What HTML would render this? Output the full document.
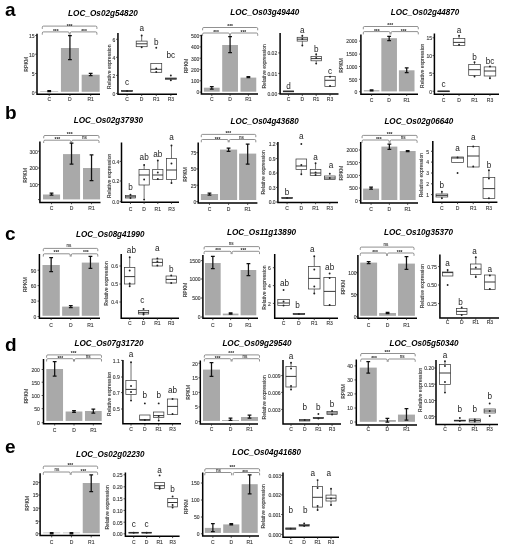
<!DOCTYPE html><html><head><meta charset="utf-8"><title>Figure</title><style>html,body{margin:0;padding:0;background:#fff;}svg{display:block;}</style></head><body>
<svg width="505" height="550" viewBox="0 0 505 550" font-family='"Liberation Sans", Arial, sans-serif'>
<rect width="505" height="550" fill="#fff"/>
<text x="5" y="15.8" font-size="19" text-anchor="start" fill="#000" font-weight="bold">a</text>
<text x="5" y="118.8" font-size="19" text-anchor="start" fill="#000" font-weight="bold">b</text>
<text x="5" y="239.8" font-size="19" text-anchor="start" fill="#000" font-weight="bold">c</text>
<text x="5" y="351.2" font-size="19" text-anchor="start" fill="#000" font-weight="bold">d</text>
<text x="5" y="453" font-size="19" text-anchor="start" fill="#000" font-weight="bold">e</text>
<text x="68.1" y="15.7" font-size="8.8" text-anchor="start" fill="#000" font-weight="bold" font-style="italic" textLength="69.7" lengthAdjust="spacingAndGlyphs">LOC_Os02g54820</text>
<text x="230.3" y="15.2" font-size="8.8" text-anchor="start" fill="#000" font-weight="bold" font-style="italic" textLength="69" lengthAdjust="spacingAndGlyphs">LOC_Os03g49440</text>
<text x="390.8" y="15.3" font-size="8.8" text-anchor="start" fill="#000" font-weight="bold" font-style="italic" textLength="68.5" lengthAdjust="spacingAndGlyphs">LOC_Os02g44870</text>
<text x="73.7" y="123" font-size="8.8" text-anchor="start" fill="#000" font-weight="bold" font-style="italic" textLength="69.3" lengthAdjust="spacingAndGlyphs">LOC_Os02g37930</text>
<text x="230.6" y="123.8" font-size="8.8" text-anchor="start" fill="#000" font-weight="bold" font-style="italic" textLength="68" lengthAdjust="spacingAndGlyphs">LOC_Os04g43680</text>
<text x="384.4" y="123.5" font-size="8.8" text-anchor="start" fill="#000" font-weight="bold" font-style="italic" textLength="69" lengthAdjust="spacingAndGlyphs">LOC_Os02g06640</text>
<text x="76" y="236.5" font-size="8.8" text-anchor="start" fill="#000" font-weight="bold" font-style="italic" textLength="68.4" lengthAdjust="spacingAndGlyphs">LOC_Os08g41990</text>
<text x="227" y="235" font-size="8.8" text-anchor="start" fill="#000" font-weight="bold" font-style="italic" textLength="69" lengthAdjust="spacingAndGlyphs">LOC_Os11g13890</text>
<text x="384" y="235" font-size="8.8" text-anchor="start" fill="#000" font-weight="bold" font-style="italic" textLength="69" lengthAdjust="spacingAndGlyphs">LOC_Os10g35370</text>
<text x="74.5" y="345.8" font-size="8.8" text-anchor="start" fill="#000" font-weight="bold" font-style="italic" textLength="69.1" lengthAdjust="spacingAndGlyphs">LOC_Os07g31720</text>
<text x="222.4" y="346" font-size="8.8" text-anchor="start" fill="#000" font-weight="bold" font-style="italic" textLength="69.2" lengthAdjust="spacingAndGlyphs">LOC_Os09g29540</text>
<text x="389.6" y="345.5" font-size="8.8" text-anchor="start" fill="#000" font-weight="bold" font-style="italic" textLength="69" lengthAdjust="spacingAndGlyphs">LOC_Os05g50340</text>
<text x="76" y="457.3" font-size="8.8" text-anchor="start" fill="#000" font-weight="bold" font-style="italic" textLength="68.6" lengthAdjust="spacingAndGlyphs">LOC_Os02g02230</text>
<text x="232.3" y="455" font-size="8.8" text-anchor="start" fill="#000" font-weight="bold" font-style="italic" textLength="68.6" lengthAdjust="spacingAndGlyphs">LOC_Os04g41680</text>
<rect x="40.21" y="91.2" width="18" height="0.6" fill="#a9a9a9"/>
<rect x="60.93" y="48" width="18" height="43.8" fill="#a9a9a9"/>
<rect x="81.66" y="74.7" width="18" height="17.1" fill="#a9a9a9"/>
<path d="M47.31 90.6H51.11M49.21 90.6V91.6M47.31 91.6H51.11" stroke="#111" stroke-width="1.25" fill="none"/>
<path d="M68.03 35.5H71.83M69.93 35.5V59.5M68.03 59.5H71.83" stroke="#111" stroke-width="1.25" fill="none"/>
<path d="M88.76 73.3H92.56M90.66 73.3V75.6M88.76 75.6H92.56" stroke="#111" stroke-width="1.25" fill="none"/>
<path d="M37 33.7V94.2H100" fill="none" stroke="#000" stroke-width="1.5"/>
<path d="M35.2 35.5H37" stroke="#222" stroke-width="0.8"/>
<text x="34.6" y="37.8" font-size="5.0" text-anchor="end" fill="#333" stroke="#444" stroke-width="0.12">15</text>
<path d="M35.2 54.2H37" stroke="#222" stroke-width="0.8"/>
<text x="34.6" y="56.5" font-size="5.0" text-anchor="end" fill="#333" stroke="#444" stroke-width="0.12">10</text>
<path d="M35.2 73.5H37" stroke="#222" stroke-width="0.8"/>
<text x="34.6" y="75.8" font-size="5.0" text-anchor="end" fill="#333" stroke="#444" stroke-width="0.12">5</text>
<path d="M35.2 92.2H37" stroke="#222" stroke-width="0.8"/>
<text x="34.6" y="94.5" font-size="5.0" text-anchor="end" fill="#333" stroke="#444" stroke-width="0.12">0</text>
<path d="M49.21 94.2V96" stroke="#222" stroke-width="0.8"/>
<text x="49.21" y="100.6" font-size="5.0" text-anchor="middle" fill="#333" stroke="#444" stroke-width="0.12">C</text>
<path d="M69.93 94.2V96" stroke="#222" stroke-width="0.8"/>
<text x="69.93" y="100.6" font-size="5.0" text-anchor="middle" fill="#333" stroke="#444" stroke-width="0.12">D</text>
<path d="M90.66 94.2V96" stroke="#222" stroke-width="0.8"/>
<text x="90.66" y="100.6" font-size="5.0" text-anchor="middle" fill="#333" stroke="#444" stroke-width="0.12">R1</text>
<text transform="translate(25.9 64.3) rotate(-90)" font-size="5.1" text-anchor="middle" fill="#222" dy="1.7" stroke="#444" stroke-width="0.12">RPKM</text>
<path d="M42.3 28.9V27.3Q42.3 26.1 43.5 26.1H95.7Q96.9 26.1 96.9 27.3V28.9M42.3 34.7V33.1Q42.3 31.9 43.5 31.9H68Q69.2 31.9 69.2 33.1V34.7M70.2 34.7V33.1Q70.2 31.9 71.4 31.9H95.7Q96.9 31.9 96.9 33.1V34.7" fill="none" stroke="#555" stroke-width="0.65"/>
<text x="69.6" y="27.7" font-size="4.9" text-anchor="middle" fill="#222" font-weight="bold">***</text>
<text x="55.8" y="32.8" font-size="4.9" text-anchor="middle" fill="#222" font-weight="bold">***</text>
<text x="84" y="32.8" font-size="4.9" text-anchor="middle" fill="#222" font-weight="bold">***</text>
<rect x="121.62" y="90.6" width="10.94" height="0.8" fill="#fff" stroke="#333" stroke-width="0.7"/>
<path d="M121.62 91H132.55" stroke="#222" stroke-width="0.9"/>
<circle cx="127.09" cy="91" r="0.95" fill="#222"/>
<path d="M141.67 35V41.1M141.67 46.7V47.5" stroke="#333" stroke-width="0.7"/>
<rect x="136.2" y="41.1" width="10.94" height="5.6" fill="#fff" stroke="#333" stroke-width="0.7"/>
<path d="M136.2 43.8H147.14" stroke="#222" stroke-width="0.9"/>
<circle cx="141.67" cy="35.5" r="0.95" fill="#222"/>
<circle cx="141.67" cy="47.3" r="0.95" fill="#222"/>
<rect x="150.79" y="63.6" width="10.94" height="8.7" fill="#fff" stroke="#333" stroke-width="0.7"/>
<path d="M150.79 69.3H161.72" stroke="#222" stroke-width="0.9"/>
<circle cx="156.25" cy="47.7" r="0.95" fill="#222"/>
<circle cx="156.25" cy="68.5" r="0.95" fill="#222"/>
<circle cx="156.25" cy="72" r="0.95" fill="#222"/>
<rect x="165.37" y="78" width="10.94" height="1.3" fill="#fff" stroke="#333" stroke-width="0.7"/>
<path d="M165.37 78.6H176.31" stroke="#222" stroke-width="0.9"/>
<circle cx="170.84" cy="75.5" r="0.95" fill="#222"/>
<circle cx="170.84" cy="80.2" r="0.95" fill="#222"/>
<text x="127.09" y="84.9" font-size="8.2" text-anchor="middle" fill="#222">c</text>
<text x="141.67" y="30.7" font-size="8.2" text-anchor="middle" fill="#222">a</text>
<text x="156.25" y="44.5" font-size="8.2" text-anchor="middle" fill="#222">b</text>
<text x="170.84" y="57.5" font-size="8.2" text-anchor="middle" fill="#222">bc</text>
<path d="M117.95 33V94.2H177" fill="none" stroke="#000" stroke-width="1.5"/>
<path d="M116.15 39.3H117.95" stroke="#222" stroke-width="0.8"/>
<text x="115.3" y="41.6" font-size="5.0" text-anchor="end" fill="#333" stroke="#444" stroke-width="0.12">6</text>
<path d="M116.15 57.3H117.95" stroke="#222" stroke-width="0.8"/>
<text x="115.3" y="59.6" font-size="5.0" text-anchor="end" fill="#333" stroke="#444" stroke-width="0.12">4</text>
<path d="M116.15 75.4H117.95" stroke="#222" stroke-width="0.8"/>
<text x="115.3" y="77.7" font-size="5.0" text-anchor="end" fill="#333" stroke="#444" stroke-width="0.12">2</text>
<path d="M116.15 93.4H117.95" stroke="#222" stroke-width="0.8"/>
<text x="115.3" y="95.7" font-size="5.0" text-anchor="end" fill="#333" stroke="#444" stroke-width="0.12">0</text>
<path d="M127.09 94.2V96" stroke="#222" stroke-width="0.8"/>
<text x="127.09" y="100.8" font-size="5.0" text-anchor="middle" fill="#333" stroke="#444" stroke-width="0.12">C</text>
<path d="M141.67 94.2V96" stroke="#222" stroke-width="0.8"/>
<text x="141.67" y="100.8" font-size="5.0" text-anchor="middle" fill="#333" stroke="#444" stroke-width="0.12">D</text>
<path d="M156.25 94.2V96" stroke="#222" stroke-width="0.8"/>
<text x="156.25" y="100.8" font-size="5.0" text-anchor="middle" fill="#333" stroke="#444" stroke-width="0.12">R1</text>
<path d="M170.84 94.2V96" stroke="#222" stroke-width="0.8"/>
<text x="170.84" y="100.8" font-size="5.0" text-anchor="middle" fill="#333" stroke="#444" stroke-width="0.12">R3</text>
<text transform="translate(109.1 66.7) rotate(-90)" font-size="5.1" text-anchor="middle" fill="#222" dy="1.7" stroke="#444" stroke-width="0.12">Relative expression</text>
<rect x="203.9" y="87.7" width="15.77" height="4" fill="#a9a9a9"/>
<rect x="222.2" y="45" width="15.77" height="46.7" fill="#a9a9a9"/>
<rect x="240.5" y="77.6" width="15.77" height="14.1" fill="#a9a9a9"/>
<path d="M209.88 86.5H213.68M211.78 86.5V89M209.88 89H213.68" stroke="#111" stroke-width="1.25" fill="none"/>
<path d="M228.18 36.6H231.98M230.08 36.6V52.5M228.18 52.5H231.98" stroke="#111" stroke-width="1.25" fill="none"/>
<path d="M246.48 76.6H250.28M248.38 76.6V77.6M246.48 77.6H250.28" stroke="#111" stroke-width="1.25" fill="none"/>
<path d="M201.4 34.7V94.1H258" fill="none" stroke="#000" stroke-width="1.5"/>
<path d="M199.6 35.6H201.4" stroke="#222" stroke-width="0.8"/>
<text x="199.3" y="37.9" font-size="5.0" text-anchor="end" fill="#333" stroke="#444" stroke-width="0.12">500</text>
<path d="M199.6 46.9H201.4" stroke="#222" stroke-width="0.8"/>
<text x="199.3" y="49.2" font-size="5.0" text-anchor="end" fill="#333" stroke="#444" stroke-width="0.12">400</text>
<path d="M199.6 58.2H201.4" stroke="#222" stroke-width="0.8"/>
<text x="199.3" y="60.5" font-size="5.0" text-anchor="end" fill="#333" stroke="#444" stroke-width="0.12">300</text>
<path d="M199.6 69.5H201.4" stroke="#222" stroke-width="0.8"/>
<text x="199.3" y="71.8" font-size="5.0" text-anchor="end" fill="#333" stroke="#444" stroke-width="0.12">200</text>
<path d="M199.6 80.8H201.4" stroke="#222" stroke-width="0.8"/>
<text x="199.3" y="83.1" font-size="5.0" text-anchor="end" fill="#333" stroke="#444" stroke-width="0.12">100</text>
<path d="M199.6 92.1H201.4" stroke="#222" stroke-width="0.8"/>
<text x="199.3" y="94.4" font-size="5.0" text-anchor="end" fill="#333" stroke="#444" stroke-width="0.12">0</text>
<path d="M211.78 94.1V95.9" stroke="#222" stroke-width="0.8"/>
<text x="211.78" y="100.8" font-size="5.0" text-anchor="middle" fill="#333" stroke="#444" stroke-width="0.12">C</text>
<path d="M230.08 94.1V95.9" stroke="#222" stroke-width="0.8"/>
<text x="230.08" y="100.8" font-size="5.0" text-anchor="middle" fill="#333" stroke="#444" stroke-width="0.12">D</text>
<path d="M248.38 94.1V95.9" stroke="#222" stroke-width="0.8"/>
<text x="248.38" y="100.8" font-size="5.0" text-anchor="middle" fill="#333" stroke="#444" stroke-width="0.12">R1</text>
<text transform="translate(185.8 66) rotate(-90)" font-size="5.1" text-anchor="middle" fill="#222" dy="1.7" stroke="#444" stroke-width="0.12">RPKM</text>
<path d="M202.6 30.3V28.7Q202.6 27.5 203.8 27.5H256.5Q257.7 27.5 257.7 28.7V30.3M202.6 35.8V34.2Q202.6 33 203.8 33H228.3Q229.5 33 229.5 34.2V35.8M230.5 35.8V34.2Q230.5 33 231.7 33H256.5Q257.7 33 257.7 34.2V35.8" fill="none" stroke="#555" stroke-width="0.65"/>
<text x="230.1" y="28.2" font-size="4.9" text-anchor="middle" fill="#222" font-weight="bold">***</text>
<text x="216" y="34.2" font-size="4.9" text-anchor="middle" fill="#222" font-weight="bold">***</text>
<text x="243.4" y="34.2" font-size="4.9" text-anchor="middle" fill="#222" font-weight="bold">***</text>
<rect x="283.28" y="91" width="10.39" height="0.8" fill="#fff" stroke="#333" stroke-width="0.7"/>
<path d="M283.28 91.3H293.68" stroke="#222" stroke-width="0.9"/>
<path d="M302.33 35.4V37.3M302.33 41.1V45.9" stroke="#333" stroke-width="0.7"/>
<rect x="297.14" y="37.3" width="10.39" height="3.8" fill="#fff" stroke="#333" stroke-width="0.7"/>
<path d="M297.14 39.2H307.53" stroke="#222" stroke-width="0.9"/>
<circle cx="302.33" cy="35.8" r="0.95" fill="#222"/>
<circle cx="302.33" cy="39" r="0.95" fill="#222"/>
<circle cx="302.33" cy="45.5" r="0.95" fill="#222"/>
<path d="M316.19 53.9V56.4M316.19 60.8V64" stroke="#333" stroke-width="0.7"/>
<rect x="310.99" y="56.4" width="10.39" height="4.4" fill="#fff" stroke="#333" stroke-width="0.7"/>
<path d="M310.99 58.6H321.39" stroke="#222" stroke-width="0.9"/>
<circle cx="316.19" cy="54.3" r="0.95" fill="#222"/>
<circle cx="316.19" cy="58" r="0.95" fill="#222"/>
<circle cx="316.19" cy="63.6" r="0.95" fill="#222"/>
<rect x="324.85" y="76.4" width="10.39" height="10" fill="#fff" stroke="#333" stroke-width="0.7"/>
<path d="M324.85 80.3H335.24" stroke="#222" stroke-width="0.9"/>
<circle cx="330.04" cy="76.8" r="0.95" fill="#222"/>
<circle cx="330.04" cy="86" r="0.95" fill="#222"/>
<text x="288.48" y="88.6" font-size="8.2" text-anchor="middle" fill="#222">d</text>
<text x="302.33" y="32.5" font-size="8.2" text-anchor="middle" fill="#222">a</text>
<text x="316.19" y="51.7" font-size="8.2" text-anchor="middle" fill="#222">b</text>
<text x="330.04" y="73.6" font-size="8.2" text-anchor="middle" fill="#222">c</text>
<path d="M280.1 32.9V94.1H338.5" fill="none" stroke="#000" stroke-width="1.5"/>
<path d="M278.3 52.9H280.1" stroke="#222" stroke-width="0.8"/>
<text x="277.2" y="55.2" font-size="5.0" text-anchor="end" fill="#333" stroke="#444" stroke-width="0.12">0.02</text>
<path d="M278.3 73.4H280.1" stroke="#222" stroke-width="0.8"/>
<text x="277.2" y="75.7" font-size="5.0" text-anchor="end" fill="#333" stroke="#444" stroke-width="0.12">0.01</text>
<path d="M278.3 93.6H280.1" stroke="#222" stroke-width="0.8"/>
<text x="277.2" y="95.9" font-size="5.0" text-anchor="end" fill="#333" stroke="#444" stroke-width="0.12">0.00</text>
<path d="M288.48 94.1V95.9" stroke="#222" stroke-width="0.8"/>
<text x="288.48" y="101.4" font-size="5.0" text-anchor="middle" fill="#333" stroke="#444" stroke-width="0.12">C</text>
<path d="M302.33 94.1V95.9" stroke="#222" stroke-width="0.8"/>
<text x="302.33" y="101.4" font-size="5.0" text-anchor="middle" fill="#333" stroke="#444" stroke-width="0.12">D</text>
<path d="M316.19 94.1V95.9" stroke="#222" stroke-width="0.8"/>
<text x="316.19" y="101.4" font-size="5.0" text-anchor="middle" fill="#333" stroke="#444" stroke-width="0.12">R1</text>
<path d="M330.04 94.1V95.9" stroke="#222" stroke-width="0.8"/>
<text x="330.04" y="101.4" font-size="5.0" text-anchor="middle" fill="#333" stroke="#444" stroke-width="0.12">R3</text>
<text transform="translate(264.4 66.4) rotate(-90)" font-size="5.1" text-anchor="middle" fill="#222" dy="1.7" stroke="#444" stroke-width="0.12">Relative expression</text>
<rect x="363.78" y="90.2" width="15.63" height="1.2" fill="#a9a9a9"/>
<rect x="381.33" y="38.2" width="15.63" height="53.2" fill="#a9a9a9"/>
<rect x="398.88" y="70.3" width="15.63" height="21.1" fill="#a9a9a9"/>
<path d="M369.7 89.8H373.5M371.6 89.8V90.8M369.7 90.8H373.5" stroke="#111" stroke-width="1.25" fill="none"/>
<path d="M387.25 36.3H391.05M389.15 36.3V40.5M387.25 40.5H391.05" stroke="#111" stroke-width="1.25" fill="none"/>
<path d="M404.8 67.8H408.6M406.7 67.8V72.6M404.8 72.6H408.6" stroke="#111" stroke-width="1.25" fill="none"/>
<path d="M360.9 34.4V94.2H418" fill="none" stroke="#000" stroke-width="1.5"/>
<path d="M359.1 41.1H360.9" stroke="#222" stroke-width="0.8"/>
<text x="357.3" y="43.4" font-size="5.0" text-anchor="end" fill="#333" stroke="#444" stroke-width="0.12">2000</text>
<path d="M359.1 54.1H360.9" stroke="#222" stroke-width="0.8"/>
<text x="357.3" y="56.4" font-size="5.0" text-anchor="end" fill="#333" stroke="#444" stroke-width="0.12">1500</text>
<path d="M359.1 66.5H360.9" stroke="#222" stroke-width="0.8"/>
<text x="357.3" y="68.8" font-size="5.0" text-anchor="end" fill="#333" stroke="#444" stroke-width="0.12">1000</text>
<path d="M359.1 79.3H360.9" stroke="#222" stroke-width="0.8"/>
<text x="357.3" y="81.6" font-size="5.0" text-anchor="end" fill="#333" stroke="#444" stroke-width="0.12">500</text>
<path d="M359.1 91.7H360.9" stroke="#222" stroke-width="0.8"/>
<text x="357.3" y="94" font-size="5.0" text-anchor="end" fill="#333" stroke="#444" stroke-width="0.12">0</text>
<path d="M371.6 94.2V96" stroke="#222" stroke-width="0.8"/>
<text x="371.6" y="101.5" font-size="5.0" text-anchor="middle" fill="#333" stroke="#444" stroke-width="0.12">C</text>
<path d="M389.15 94.2V96" stroke="#222" stroke-width="0.8"/>
<text x="389.15" y="101.5" font-size="5.0" text-anchor="middle" fill="#333" stroke="#444" stroke-width="0.12">D</text>
<path d="M406.7 94.2V96" stroke="#222" stroke-width="0.8"/>
<text x="406.7" y="101.5" font-size="5.0" text-anchor="middle" fill="#333" stroke="#444" stroke-width="0.12">R1</text>
<text transform="translate(341.6 65.5) rotate(-90)" font-size="5.1" text-anchor="middle" fill="#222" dy="1.7" stroke="#444" stroke-width="0.12">RPKM</text>
<path d="M363.3 29.3V27.7Q363.3 26.5 364.5 26.5H417.1Q418.3 26.5 418.3 27.7V29.3M363.3 34.4V32.8Q363.3 31.6 364.5 31.6H388.8Q390 31.6 390 32.8V34.4M391 34.4V32.8Q391 31.6 392.2 31.6H417.1Q418.3 31.6 418.3 32.8V34.4" fill="none" stroke="#555" stroke-width="0.65"/>
<text x="390.2" y="27.3" font-size="4.9" text-anchor="middle" fill="#222" font-weight="bold">***</text>
<text x="376.8" y="33.2" font-size="4.9" text-anchor="middle" fill="#222" font-weight="bold">***</text>
<text x="403.6" y="33.2" font-size="4.9" text-anchor="middle" fill="#222" font-weight="bold">***</text>
<rect x="437.81" y="90.9" width="11.59" height="0.8" fill="#fff" stroke="#333" stroke-width="0.7"/>
<path d="M437.81 91.3H449.4" stroke="#222" stroke-width="0.9"/>
<path d="M459.06 35.4V38.6" stroke="#333" stroke-width="0.7"/>
<rect x="453.26" y="38.6" width="11.59" height="6.9" fill="#fff" stroke="#333" stroke-width="0.7"/>
<path d="M453.26 42.4H464.86" stroke="#222" stroke-width="0.9"/>
<circle cx="459.06" cy="35.8" r="0.95" fill="#222"/>
<circle cx="459.06" cy="44.8" r="0.95" fill="#222"/>
<path d="M474.52 62V64.4M474.52 75.5V77" stroke="#333" stroke-width="0.7"/>
<rect x="468.72" y="64.4" width="11.59" height="11.1" fill="#fff" stroke="#333" stroke-width="0.7"/>
<path d="M468.72 69.7H480.31" stroke="#222" stroke-width="0.9"/>
<circle cx="474.52" cy="62.3" r="0.95" fill="#222"/>
<circle cx="474.52" cy="76.5" r="0.95" fill="#222"/>
<path d="M489.97 76V78.5" stroke="#333" stroke-width="0.7"/>
<rect x="484.17" y="66.9" width="11.59" height="9.1" fill="#fff" stroke="#333" stroke-width="0.7"/>
<path d="M484.17 71H495.77" stroke="#222" stroke-width="0.9"/>
<circle cx="489.97" cy="66.5" r="0.95" fill="#222"/>
<circle cx="489.97" cy="78.3" r="0.95" fill="#222"/>
<text x="443.61" y="86.9" font-size="8.2" text-anchor="middle" fill="#222">c</text>
<text x="459.06" y="32.5" font-size="8.2" text-anchor="middle" fill="#222">a</text>
<text x="474.52" y="60.3" font-size="8.2" text-anchor="middle" fill="#222">b</text>
<text x="489.97" y="63.7" font-size="8.2" text-anchor="middle" fill="#222">bc</text>
<path d="M434.4 33.4V94.2H499" fill="none" stroke="#000" stroke-width="1.5"/>
<path d="M432.6 37.8H434.4" stroke="#222" stroke-width="0.8"/>
<text x="432" y="40.1" font-size="5.0" text-anchor="end" fill="#333" stroke="#444" stroke-width="0.12">15</text>
<path d="M432.6 55.6H434.4" stroke="#222" stroke-width="0.8"/>
<text x="432" y="57.9" font-size="5.0" text-anchor="end" fill="#333" stroke="#444" stroke-width="0.12">10</text>
<path d="M432.6 73.4H434.4" stroke="#222" stroke-width="0.8"/>
<text x="432" y="75.7" font-size="5.0" text-anchor="end" fill="#333" stroke="#444" stroke-width="0.12">5</text>
<path d="M432.6 91.2H434.4" stroke="#222" stroke-width="0.8"/>
<text x="432" y="93.5" font-size="5.0" text-anchor="end" fill="#333" stroke="#444" stroke-width="0.12">0</text>
<path d="M443.61 94.2V96" stroke="#222" stroke-width="0.8"/>
<text x="443.61" y="101.5" font-size="5.0" text-anchor="middle" fill="#333" stroke="#444" stroke-width="0.12">C</text>
<path d="M459.06 94.2V96" stroke="#222" stroke-width="0.8"/>
<text x="459.06" y="101.5" font-size="5.0" text-anchor="middle" fill="#333" stroke="#444" stroke-width="0.12">D</text>
<path d="M474.52 94.2V96" stroke="#222" stroke-width="0.8"/>
<text x="474.52" y="101.5" font-size="5.0" text-anchor="middle" fill="#333" stroke="#444" stroke-width="0.12">R1</text>
<path d="M489.97 94.2V96" stroke="#222" stroke-width="0.8"/>
<text x="489.97" y="101.5" font-size="5.0" text-anchor="middle" fill="#333" stroke="#444" stroke-width="0.12">R3</text>
<text transform="translate(422.4 65.8) rotate(-90)" font-size="5.1" text-anchor="middle" fill="#222" dy="1.7" stroke="#444" stroke-width="0.12">Relative expression</text>
<rect x="43" y="194.5" width="17.07" height="4.9" fill="#a9a9a9"/>
<rect x="63" y="154.1" width="17.07" height="45.3" fill="#a9a9a9"/>
<rect x="83" y="168" width="17.07" height="31.4" fill="#a9a9a9"/>
<path d="M49.63 193H53.43M51.53 193V195M49.63 195H53.43" stroke="#111" stroke-width="1.25" fill="none"/>
<path d="M69.63 143.2H73.43M71.53 143.2V164M69.63 164H73.43" stroke="#111" stroke-width="1.25" fill="none"/>
<path d="M89.63 154.9H93.43M91.53 154.9V180.6M89.63 180.6H93.43" stroke="#111" stroke-width="1.25" fill="none"/>
<path d="M39.9 141.6V202.4H100.5" fill="none" stroke="#000" stroke-width="1.5"/>
<path d="M38.1 151.2H39.9" stroke="#222" stroke-width="0.8"/>
<text x="37.8" y="153.5" font-size="5.0" text-anchor="end" fill="#333" stroke="#444" stroke-width="0.12">300</text>
<path d="M38.1 168H39.9" stroke="#222" stroke-width="0.8"/>
<text x="37.8" y="170.3" font-size="5.0" text-anchor="end" fill="#333" stroke="#444" stroke-width="0.12">200</text>
<path d="M38.1 184.6H39.9" stroke="#222" stroke-width="0.8"/>
<text x="37.8" y="186.9" font-size="5.0" text-anchor="end" fill="#333" stroke="#444" stroke-width="0.12">100</text>
<path d="M38.1 199.6H39.9" stroke="#222" stroke-width="0.8"/>
<path d="M51.53 202.4V204.2" stroke="#222" stroke-width="0.8"/>
<text x="51.53" y="209.8" font-size="5.0" text-anchor="middle" fill="#333" stroke="#444" stroke-width="0.12">C</text>
<path d="M71.53 202.4V204.2" stroke="#222" stroke-width="0.8"/>
<text x="71.53" y="209.8" font-size="5.0" text-anchor="middle" fill="#333" stroke="#444" stroke-width="0.12">D</text>
<path d="M91.53 202.4V204.2" stroke="#222" stroke-width="0.8"/>
<text x="91.53" y="209.8" font-size="5.0" text-anchor="middle" fill="#333" stroke="#444" stroke-width="0.12">R1</text>
<text transform="translate(25.3 175.4) rotate(-90)" font-size="5.1" text-anchor="middle" fill="#222" dy="1.7" stroke="#444" stroke-width="0.12">RPKM</text>
<path d="M43.7 138.3V136.7Q43.7 135.5 44.9 135.5H97.8Q99 135.5 99 136.7V138.3M43.7 143V141.4Q43.7 140.2 44.9 140.2H69.5Q70.7 140.2 70.7 141.4V143M71.7 143V141.4Q71.7 140.2 72.9 140.2H97.8Q99 140.2 99 141.4V143" fill="none" stroke="#555" stroke-width="0.65"/>
<text x="69.7" y="135.6" font-size="4.9" text-anchor="middle" fill="#222" font-weight="bold">***</text>
<text x="57.4" y="140.6" font-size="4.9" text-anchor="middle" fill="#222" font-weight="bold">***</text>
<text x="84.3" y="138.7" font-size="4.5" text-anchor="middle" fill="#333" stroke="#444" stroke-width="0.12">ns</text>
<path d="M130.47 194.5V195.6" stroke="#333" stroke-width="0.7"/>
<rect x="125.34" y="195.6" width="10.25" height="2.4" fill="#fff" stroke="#333" stroke-width="0.7"/>
<path d="M125.34 196.8H135.6" stroke="#222" stroke-width="0.9"/>
<circle cx="130.47" cy="194.8" r="0.95" fill="#222"/>
<circle cx="130.47" cy="198" r="0.95" fill="#222"/>
<path d="M144.14 164.6V169.4M144.14 185V200" stroke="#333" stroke-width="0.7"/>
<rect x="139.01" y="169.4" width="10.25" height="15.6" fill="#fff" stroke="#333" stroke-width="0.7"/>
<path d="M139.01 175H149.27" stroke="#222" stroke-width="0.9"/>
<circle cx="144.14" cy="165" r="0.95" fill="#222"/>
<circle cx="144.14" cy="179.5" r="0.95" fill="#222"/>
<circle cx="144.14" cy="199.6" r="0.95" fill="#222"/>
<path d="M157.81 160V169.4" stroke="#333" stroke-width="0.7"/>
<rect x="152.68" y="169.4" width="10.25" height="10" fill="#fff" stroke="#333" stroke-width="0.7"/>
<path d="M152.68 175H162.94" stroke="#222" stroke-width="0.9"/>
<circle cx="157.81" cy="160.5" r="0.95" fill="#222"/>
<circle cx="157.81" cy="172.5" r="0.95" fill="#222"/>
<circle cx="157.81" cy="179" r="0.95" fill="#222"/>
<path d="M171.48 145V158.6M171.48 179.4V183.4" stroke="#333" stroke-width="0.7"/>
<rect x="166.35" y="158.6" width="10.25" height="20.8" fill="#fff" stroke="#333" stroke-width="0.7"/>
<path d="M166.35 170H176.61" stroke="#222" stroke-width="0.9"/>
<circle cx="171.48" cy="145.5" r="0.95" fill="#222"/>
<circle cx="171.48" cy="163.5" r="0.95" fill="#222"/>
<circle cx="171.48" cy="183" r="0.95" fill="#222"/>
<text x="130.47" y="190.1" font-size="8.2" text-anchor="middle" fill="#222">b</text>
<text x="144.14" y="160.1" font-size="8.2" text-anchor="middle" fill="#222">ab</text>
<text x="157.81" y="156.9" font-size="8.2" text-anchor="middle" fill="#222">ab</text>
<text x="171.48" y="139.5" font-size="8.2" text-anchor="middle" fill="#222">a</text>
<path d="M121.5 142.6V202.2H179" fill="none" stroke="#000" stroke-width="1.5"/>
<path d="M119.7 161.4H121.5" stroke="#222" stroke-width="0.8"/>
<text x="119.3" y="163.7" font-size="5.0" text-anchor="end" fill="#333" stroke="#444" stroke-width="0.12">0.4</text>
<path d="M119.7 181H121.5" stroke="#222" stroke-width="0.8"/>
<text x="119.3" y="183.3" font-size="5.0" text-anchor="end" fill="#333" stroke="#444" stroke-width="0.12">0.2</text>
<path d="M119.7 201.4H121.5" stroke="#222" stroke-width="0.8"/>
<text x="119.3" y="203.7" font-size="5.0" text-anchor="end" fill="#333" stroke="#444" stroke-width="0.12">0.0</text>
<path d="M130.47 202.2V204" stroke="#222" stroke-width="0.8"/>
<text x="130.47" y="210.8" font-size="5.0" text-anchor="middle" fill="#333" stroke="#444" stroke-width="0.12">C</text>
<path d="M144.14 202.2V204" stroke="#222" stroke-width="0.8"/>
<text x="144.14" y="210.8" font-size="5.0" text-anchor="middle" fill="#333" stroke="#444" stroke-width="0.12">D</text>
<path d="M157.81 202.2V204" stroke="#222" stroke-width="0.8"/>
<text x="157.81" y="210.8" font-size="5.0" text-anchor="middle" fill="#333" stroke="#444" stroke-width="0.12">R1</text>
<path d="M171.48 202.2V204" stroke="#222" stroke-width="0.8"/>
<text x="171.48" y="210.8" font-size="5.0" text-anchor="middle" fill="#333" stroke="#444" stroke-width="0.12">R3</text>
<text transform="translate(109.6 175.9) rotate(-90)" font-size="5.1" text-anchor="middle" fill="#222" dy="1.7" stroke="#444" stroke-width="0.12">Relative expression</text>
<rect x="200.9" y="194" width="17.13" height="6" fill="#a9a9a9"/>
<rect x="220" y="149.6" width="17.13" height="50.4" fill="#a9a9a9"/>
<rect x="239.1" y="153.6" width="17.13" height="46.4" fill="#a9a9a9"/>
<path d="M207.57 193H211.37M209.47 193V195M207.57 195H211.37" stroke="#111" stroke-width="1.25" fill="none"/>
<path d="M226.67 148H230.47M228.57 148V151.4M226.67 151.4H230.47" stroke="#111" stroke-width="1.25" fill="none"/>
<path d="M245.77 144H249.57M247.67 144V164M245.77 164H249.57" stroke="#111" stroke-width="1.25" fill="none"/>
<path d="M198.2 142.6V203.1H257.4" fill="none" stroke="#000" stroke-width="1.5"/>
<path d="M196.4 152.6H198.2" stroke="#222" stroke-width="0.8"/>
<text x="196.4" y="154.9" font-size="5.0" text-anchor="end" fill="#333" stroke="#444" stroke-width="0.12">75</text>
<path d="M196.4 168.9H198.2" stroke="#222" stroke-width="0.8"/>
<text x="196.4" y="171.2" font-size="5.0" text-anchor="end" fill="#333" stroke="#444" stroke-width="0.12">50</text>
<path d="M196.4 185.2H198.2" stroke="#222" stroke-width="0.8"/>
<text x="196.4" y="187.5" font-size="5.0" text-anchor="end" fill="#333" stroke="#444" stroke-width="0.12">25</text>
<path d="M196.4 201.5H198.2" stroke="#222" stroke-width="0.8"/>
<text x="196.4" y="203.8" font-size="5.0" text-anchor="end" fill="#333" stroke="#444" stroke-width="0.12">0</text>
<path d="M209.47 203.1V204.9" stroke="#222" stroke-width="0.8"/>
<text x="209.47" y="210.8" font-size="5.0" text-anchor="middle" fill="#333" stroke="#444" stroke-width="0.12">C</text>
<path d="M228.57 203.1V204.9" stroke="#222" stroke-width="0.8"/>
<text x="228.57" y="210.8" font-size="5.0" text-anchor="middle" fill="#333" stroke="#444" stroke-width="0.12">D</text>
<path d="M247.67 203.1V204.9" stroke="#222" stroke-width="0.8"/>
<text x="247.67" y="210.8" font-size="5.0" text-anchor="middle" fill="#333" stroke="#444" stroke-width="0.12">R1</text>
<text transform="translate(185 174.5) rotate(-90)" font-size="5.1" text-anchor="middle" fill="#222" dy="1.7" stroke="#444" stroke-width="0.12">RPKM</text>
<path d="M201.3 137.2V135.6Q201.3 134.4 202.5 134.4H254.6Q255.8 134.4 255.8 135.6V137.2M201.3 142.3V140.7Q201.3 139.5 202.5 139.5H227Q228.2 139.5 228.2 140.7V142.3M229.2 142.3V140.7Q229.2 139.5 230.4 139.5H254.6Q255.8 139.5 255.8 140.7V142.3" fill="none" stroke="#555" stroke-width="0.65"/>
<text x="228.3" y="134.8" font-size="4.9" text-anchor="middle" fill="#222" font-weight="bold">***</text>
<text x="217.5" y="140.5" font-size="4.9" text-anchor="middle" fill="#222" font-weight="bold">***</text>
<text x="241.4" y="138.6" font-size="4.5" text-anchor="middle" fill="#333" stroke="#444" stroke-width="0.12">ns</text>
<rect x="281.75" y="197.5" width="10.68" height="1" fill="#fff" stroke="#333" stroke-width="0.7"/>
<path d="M281.75 198H292.43" stroke="#222" stroke-width="0.9"/>
<circle cx="287.09" cy="198" r="0.95" fill="#222"/>
<path d="M301.33 169.4V174.6" stroke="#333" stroke-width="0.7"/>
<rect x="295.99" y="159" width="10.68" height="10.4" fill="#fff" stroke="#333" stroke-width="0.7"/>
<path d="M295.99 166H306.67" stroke="#222" stroke-width="0.9"/>
<circle cx="301.33" cy="144" r="0.95" fill="#222"/>
<circle cx="301.33" cy="165" r="0.95" fill="#222"/>
<circle cx="301.33" cy="174.2" r="0.95" fill="#222"/>
<path d="M315.57 163V169.4" stroke="#333" stroke-width="0.7"/>
<rect x="310.23" y="169.4" width="10.68" height="6" fill="#fff" stroke="#333" stroke-width="0.7"/>
<path d="M310.23 173H320.91" stroke="#222" stroke-width="0.9"/>
<circle cx="315.57" cy="163.3" r="0.95" fill="#222"/>
<circle cx="315.57" cy="172.5" r="0.95" fill="#222"/>
<circle cx="315.57" cy="175" r="0.95" fill="#222"/>
<rect x="324.47" y="176" width="10.68" height="3.4" fill="#fff" stroke="#333" stroke-width="0.7"/>
<path d="M324.47 178H335.15" stroke="#222" stroke-width="0.9"/>
<circle cx="329.81" cy="173.8" r="0.95" fill="#222"/>
<circle cx="329.81" cy="178" r="0.95" fill="#222"/>
<text x="287.09" y="194.9" font-size="8.2" text-anchor="middle" fill="#222">b</text>
<text x="301.33" y="138.9" font-size="8.2" text-anchor="middle" fill="#222">a</text>
<text x="315.57" y="159.5" font-size="8.2" text-anchor="middle" fill="#222">a</text>
<text x="331" y="167.9" font-size="8.2" text-anchor="middle" fill="#222">a</text>
<path d="M277.9 142V202.4H338" fill="none" stroke="#000" stroke-width="1.5"/>
<path d="M276.1 144H277.9" stroke="#222" stroke-width="0.8"/>
<text x="275.6" y="146.3" font-size="5.0" text-anchor="end" fill="#333" stroke="#444" stroke-width="0.12">1.2</text>
<path d="M276.1 158.6H277.9" stroke="#222" stroke-width="0.8"/>
<text x="275.6" y="160.9" font-size="5.0" text-anchor="end" fill="#333" stroke="#444" stroke-width="0.12">0.9</text>
<path d="M276.1 173H277.9" stroke="#222" stroke-width="0.8"/>
<text x="275.6" y="175.3" font-size="5.0" text-anchor="end" fill="#333" stroke="#444" stroke-width="0.12">0.6</text>
<path d="M276.1 187.4H277.9" stroke="#222" stroke-width="0.8"/>
<text x="275.6" y="189.7" font-size="5.0" text-anchor="end" fill="#333" stroke="#444" stroke-width="0.12">0.3</text>
<path d="M276.1 202H277.9" stroke="#222" stroke-width="0.8"/>
<text x="275.6" y="204.3" font-size="5.0" text-anchor="end" fill="#333" stroke="#444" stroke-width="0.12">0.0</text>
<path d="M287.09 202.4V204.2" stroke="#222" stroke-width="0.8"/>
<text x="287.09" y="210.4" font-size="5.0" text-anchor="middle" fill="#333" stroke="#444" stroke-width="0.12">C</text>
<path d="M301.33 202.4V204.2" stroke="#222" stroke-width="0.8"/>
<text x="301.33" y="210.4" font-size="5.0" text-anchor="middle" fill="#333" stroke="#444" stroke-width="0.12">D</text>
<path d="M315.57 202.4V204.2" stroke="#222" stroke-width="0.8"/>
<text x="315.57" y="210.4" font-size="5.0" text-anchor="middle" fill="#333" stroke="#444" stroke-width="0.12">R1</text>
<path d="M329.81 202.4V204.2" stroke="#222" stroke-width="0.8"/>
<text x="329.81" y="210.4" font-size="5.0" text-anchor="middle" fill="#333" stroke="#444" stroke-width="0.12">R3</text>
<text transform="translate(263.3 172.4) rotate(-90)" font-size="5.1" text-anchor="middle" fill="#222" dy="1.7" stroke="#444" stroke-width="0.12">Relative expression</text>
<rect x="363.1" y="188.6" width="15.93" height="11.4" fill="#a9a9a9"/>
<rect x="381.4" y="146.6" width="15.93" height="53.4" fill="#a9a9a9"/>
<rect x="399.7" y="151" width="15.93" height="49" fill="#a9a9a9"/>
<path d="M369.17 187H372.97M371.07 187V189M369.17 189H372.97" stroke="#111" stroke-width="1.25" fill="none"/>
<path d="M387.47 144H391.27M389.37 144V149.4M387.47 149.4H391.27" stroke="#111" stroke-width="1.25" fill="none"/>
<path d="M405.77 150.6H409.57M407.67 150.6V151.6M405.77 151.6H409.57" stroke="#111" stroke-width="1.25" fill="none"/>
<path d="M360.7 142V203H418" fill="none" stroke="#000" stroke-width="1.5"/>
<path d="M358.9 150H360.7" stroke="#222" stroke-width="0.8"/>
<text x="357.7" y="152.3" font-size="5.0" text-anchor="end" fill="#333" stroke="#444" stroke-width="0.12">2000</text>
<path d="M358.9 162.6H360.7" stroke="#222" stroke-width="0.8"/>
<text x="357.7" y="164.9" font-size="5.0" text-anchor="end" fill="#333" stroke="#444" stroke-width="0.12">1500</text>
<path d="M358.9 175.4H360.7" stroke="#222" stroke-width="0.8"/>
<text x="357.7" y="177.7" font-size="5.0" text-anchor="end" fill="#333" stroke="#444" stroke-width="0.12">1000</text>
<path d="M358.9 188H360.7" stroke="#222" stroke-width="0.8"/>
<text x="357.7" y="190.3" font-size="5.0" text-anchor="end" fill="#333" stroke="#444" stroke-width="0.12">500</text>
<path d="M358.9 200.6H360.7" stroke="#222" stroke-width="0.8"/>
<text x="357.7" y="202.9" font-size="5.0" text-anchor="end" fill="#333" stroke="#444" stroke-width="0.12">0</text>
<path d="M371.07 203V204.8" stroke="#222" stroke-width="0.8"/>
<text x="371.07" y="210.8" font-size="5.0" text-anchor="middle" fill="#333" stroke="#444" stroke-width="0.12">C</text>
<path d="M389.37 203V204.8" stroke="#222" stroke-width="0.8"/>
<text x="389.37" y="210.8" font-size="5.0" text-anchor="middle" fill="#333" stroke="#444" stroke-width="0.12">D</text>
<path d="M407.67 203V204.8" stroke="#222" stroke-width="0.8"/>
<text x="407.67" y="210.8" font-size="5.0" text-anchor="middle" fill="#333" stroke="#444" stroke-width="0.12">R1</text>
<text transform="translate(341.6 173.1) rotate(-90)" font-size="5.1" text-anchor="middle" fill="#222" dy="1.7" stroke="#444" stroke-width="0.12">RPKM</text>
<path d="M362.1 138.2V136.6Q362.1 135.4 363.3 135.4H415.9Q417.1 135.4 417.1 136.6V138.2M362.1 142.8V141.2Q362.1 140 363.3 140H387.9Q389.1 140 389.1 141.2V142.8M390.1 142.8V141.2Q390.1 140 391.3 140H415.9Q417.1 140 417.1 141.2V142.8" fill="none" stroke="#555" stroke-width="0.65"/>
<text x="389.6" y="135.6" font-size="4.9" text-anchor="middle" fill="#222" font-weight="bold">***</text>
<text x="378.8" y="140.8" font-size="4.9" text-anchor="middle" fill="#222" font-weight="bold">***</text>
<text x="403.1" y="138.9" font-size="4.5" text-anchor="middle" fill="#333" stroke="#444" stroke-width="0.12">ns</text>
<path d="M441.88 191.5V194M441.88 197V198.5" stroke="#333" stroke-width="0.7"/>
<rect x="436" y="194" width="11.76" height="3" fill="#fff" stroke="#333" stroke-width="0.7"/>
<path d="M436 195.4H447.76" stroke="#222" stroke-width="0.9"/>
<circle cx="441.88" cy="191.8" r="0.95" fill="#222"/>
<circle cx="441.88" cy="198.2" r="0.95" fill="#222"/>
<rect x="451.68" y="157" width="11.76" height="5.4" fill="#fff" stroke="#333" stroke-width="0.7"/>
<path d="M451.68 158H463.44" stroke="#222" stroke-width="0.9"/>
<circle cx="457.56" cy="157.5" r="0.95" fill="#222"/>
<circle cx="457.56" cy="173" r="0.95" fill="#222"/>
<rect x="467.36" y="146.4" width="11.76" height="20.6" fill="#fff" stroke="#333" stroke-width="0.7"/>
<path d="M467.36 156H479.12" stroke="#222" stroke-width="0.9"/>
<circle cx="473.24" cy="146.5" r="0.95" fill="#222"/>
<circle cx="473.24" cy="166.5" r="0.95" fill="#222"/>
<path d="M488.92 170V177.4" stroke="#333" stroke-width="0.7"/>
<rect x="483.04" y="177.4" width="11.76" height="21.2" fill="#fff" stroke="#333" stroke-width="0.7"/>
<path d="M483.04 188.6H494.8" stroke="#222" stroke-width="0.9"/>
<circle cx="488.92" cy="170.3" r="0.95" fill="#222"/>
<circle cx="488.92" cy="178.5" r="0.95" fill="#222"/>
<circle cx="488.92" cy="198.2" r="0.95" fill="#222"/>
<text x="441.88" y="187.5" font-size="8.2" text-anchor="middle" fill="#222">b</text>
<text x="457.56" y="150.9" font-size="8.2" text-anchor="middle" fill="#222">a</text>
<text x="473.24" y="139.9" font-size="8.2" text-anchor="middle" fill="#222">a</text>
<text x="488.92" y="168.1" font-size="8.2" text-anchor="middle" fill="#222">b</text>
<path d="M432.8 141V202.3H497.4" fill="none" stroke="#000" stroke-width="1.5"/>
<path d="M431 151.3H432.8" stroke="#222" stroke-width="0.8"/>
<text x="429" y="153.6" font-size="5.0" text-anchor="end" fill="#333" stroke="#444" stroke-width="0.12">5</text>
<path d="M431 162.1H432.8" stroke="#222" stroke-width="0.8"/>
<text x="429" y="164.4" font-size="5.0" text-anchor="end" fill="#333" stroke="#444" stroke-width="0.12">4</text>
<path d="M431 173H432.8" stroke="#222" stroke-width="0.8"/>
<text x="429" y="175.3" font-size="5.0" text-anchor="end" fill="#333" stroke="#444" stroke-width="0.12">3</text>
<path d="M431 183.8H432.8" stroke="#222" stroke-width="0.8"/>
<text x="429" y="186.1" font-size="5.0" text-anchor="end" fill="#333" stroke="#444" stroke-width="0.12">2</text>
<path d="M431 194.6H432.8" stroke="#222" stroke-width="0.8"/>
<text x="429" y="196.9" font-size="5.0" text-anchor="end" fill="#333" stroke="#444" stroke-width="0.12">1</text>
<path d="M441.88 202.3V204.1" stroke="#222" stroke-width="0.8"/>
<text x="441.88" y="210.4" font-size="5.0" text-anchor="middle" fill="#333" stroke="#444" stroke-width="0.12">C</text>
<path d="M457.56 202.3V204.1" stroke="#222" stroke-width="0.8"/>
<text x="457.56" y="210.4" font-size="5.0" text-anchor="middle" fill="#333" stroke="#444" stroke-width="0.12">D</text>
<path d="M473.24 202.3V204.1" stroke="#222" stroke-width="0.8"/>
<text x="473.24" y="210.4" font-size="5.0" text-anchor="middle" fill="#333" stroke="#444" stroke-width="0.12">R1</text>
<path d="M488.92 202.3V204.1" stroke="#222" stroke-width="0.8"/>
<text x="488.92" y="210.4" font-size="5.0" text-anchor="middle" fill="#333" stroke="#444" stroke-width="0.12">R3</text>
<text transform="translate(421.6 175.1) rotate(-90)" font-size="5.1" text-anchor="middle" fill="#222" dy="1.7" stroke="#444" stroke-width="0.12">Relative expression</text>
<rect x="42.48" y="265" width="17.33" height="50.8" fill="#a9a9a9"/>
<rect x="62.13" y="306.6" width="17.33" height="9.2" fill="#a9a9a9"/>
<rect x="81.78" y="262.6" width="17.33" height="53.2" fill="#a9a9a9"/>
<path d="M49.25 257.6H53.05M51.15 257.6V271.6M49.25 271.6H53.05" stroke="#111" stroke-width="1.25" fill="none"/>
<path d="M68.9 305.6H72.7M70.8 305.6V307.6M68.9 307.6H72.7" stroke="#111" stroke-width="1.25" fill="none"/>
<path d="M88.55 256.4H92.35M90.45 256.4V268.4M88.55 268.4H92.35" stroke="#111" stroke-width="1.25" fill="none"/>
<path d="M39.4 254V318.2H100" fill="none" stroke="#000" stroke-width="1.5"/>
<path d="M37.6 270.2H39.4" stroke="#222" stroke-width="0.8"/>
<text x="36.2" y="272.5" font-size="5.0" text-anchor="end" fill="#333" stroke="#444" stroke-width="0.12">90</text>
<path d="M37.6 285.6H39.4" stroke="#222" stroke-width="0.8"/>
<text x="36.2" y="287.9" font-size="5.0" text-anchor="end" fill="#333" stroke="#444" stroke-width="0.12">60</text>
<path d="M37.6 301.1H39.4" stroke="#222" stroke-width="0.8"/>
<text x="36.2" y="303.4" font-size="5.0" text-anchor="end" fill="#333" stroke="#444" stroke-width="0.12">30</text>
<path d="M37.6 316.5H39.4" stroke="#222" stroke-width="0.8"/>
<text x="36.2" y="318.8" font-size="5.0" text-anchor="end" fill="#333" stroke="#444" stroke-width="0.12">0</text>
<path d="M51.15 318.2V320" stroke="#222" stroke-width="0.8"/>
<text x="51.15" y="326.8" font-size="5.0" text-anchor="middle" fill="#333" stroke="#444" stroke-width="0.12">C</text>
<path d="M70.8 318.2V320" stroke="#222" stroke-width="0.8"/>
<text x="70.8" y="326.8" font-size="5.0" text-anchor="middle" fill="#333" stroke="#444" stroke-width="0.12">D</text>
<path d="M90.45 318.2V320" stroke="#222" stroke-width="0.8"/>
<text x="90.45" y="326.8" font-size="5.0" text-anchor="middle" fill="#333" stroke="#444" stroke-width="0.12">R1</text>
<text transform="translate(25.6 284.7) rotate(-90)" font-size="5.1" text-anchor="middle" fill="#222" dy="1.7" stroke="#444" stroke-width="0.12">RPKM</text>
<path d="M43.3 251.2V249.6Q43.3 248.4 44.5 248.4H96.6Q97.8 248.4 97.8 249.6V251.2M43.3 256.6V255Q43.3 253.8 44.5 253.8H69Q70.2 253.8 70.2 255V256.6M71.2 256.6V255Q71.2 253.8 72.4 253.8H96.6Q97.8 253.8 97.8 255V256.6" fill="none" stroke="#555" stroke-width="0.65"/>
<text x="69" y="246.9" font-size="4.5" text-anchor="middle" fill="#333" stroke="#444" stroke-width="0.12">ns</text>
<text x="56.4" y="253.9" font-size="4.9" text-anchor="middle" fill="#222" font-weight="bold">***</text>
<text x="85.9" y="253.9" font-size="4.9" text-anchor="middle" fill="#222" font-weight="bold">***</text>
<path d="M129.69 257V267.4M129.69 284V286.6" stroke="#333" stroke-width="0.7"/>
<rect x="124.5" y="267.4" width="10.38" height="16.6" fill="#fff" stroke="#333" stroke-width="0.7"/>
<path d="M124.5 276.6H134.88" stroke="#222" stroke-width="0.9"/>
<circle cx="129.69" cy="257.3" r="0.95" fill="#222"/>
<circle cx="129.69" cy="270.5" r="0.95" fill="#222"/>
<circle cx="129.69" cy="283.5" r="0.95" fill="#222"/>
<circle cx="129.69" cy="286.3" r="0.95" fill="#222"/>
<rect x="138.34" y="310.6" width="10.38" height="3.4" fill="#fff" stroke="#333" stroke-width="0.7"/>
<path d="M138.34 312.4H148.72" stroke="#222" stroke-width="0.9"/>
<circle cx="143.53" cy="309" r="0.95" fill="#222"/>
<circle cx="143.53" cy="313" r="0.95" fill="#222"/>
<circle cx="143.53" cy="314.5" r="0.95" fill="#222"/>
<rect x="152.18" y="259" width="10.38" height="7" fill="#fff" stroke="#333" stroke-width="0.7"/>
<path d="M152.18 262.4H162.56" stroke="#222" stroke-width="0.9"/>
<circle cx="157.37" cy="258.5" r="0.95" fill="#222"/>
<circle cx="157.37" cy="261.5" r="0.95" fill="#222"/>
<circle cx="157.37" cy="265.5" r="0.95" fill="#222"/>
<rect x="166.02" y="276" width="10.38" height="7" fill="#fff" stroke="#333" stroke-width="0.7"/>
<path d="M166.02 279.4H176.4" stroke="#222" stroke-width="0.9"/>
<circle cx="171.21" cy="275.5" r="0.95" fill="#222"/>
<circle cx="171.21" cy="283" r="0.95" fill="#222"/>
<text x="131.4" y="252.9" font-size="8.2" text-anchor="middle" fill="#222">ab</text>
<text x="157.37" y="250.9" font-size="8.2" text-anchor="middle" fill="#222">a</text>
<text x="171.21" y="271.5" font-size="8.2" text-anchor="middle" fill="#222">b</text>
<text x="142.4" y="302.9" font-size="8.2" text-anchor="middle" fill="#222">c</text>
<path d="M121.2 254V318.2H179" fill="none" stroke="#000" stroke-width="1.5"/>
<path d="M119.4 266H121.2" stroke="#222" stroke-width="0.8"/>
<text x="118.1" y="268.3" font-size="5.0" text-anchor="end" fill="#333" stroke="#444" stroke-width="0.12">0.6</text>
<path d="M119.4 284H121.2" stroke="#222" stroke-width="0.8"/>
<text x="118.1" y="286.3" font-size="5.0" text-anchor="end" fill="#333" stroke="#444" stroke-width="0.12">0.5</text>
<path d="M119.4 302H121.2" stroke="#222" stroke-width="0.8"/>
<text x="118.1" y="304.3" font-size="5.0" text-anchor="end" fill="#333" stroke="#444" stroke-width="0.12">0.4</text>
<path d="M129.69 318.2V320" stroke="#222" stroke-width="0.8"/>
<text x="129.69" y="324.8" font-size="5.0" text-anchor="middle" fill="#333" stroke="#444" stroke-width="0.12">C</text>
<path d="M143.53 318.2V320" stroke="#222" stroke-width="0.8"/>
<text x="143.53" y="324.8" font-size="5.0" text-anchor="middle" fill="#333" stroke="#444" stroke-width="0.12">D</text>
<path d="M157.37 318.2V320" stroke="#222" stroke-width="0.8"/>
<text x="157.37" y="324.8" font-size="5.0" text-anchor="middle" fill="#333" stroke="#444" stroke-width="0.12">R1</text>
<path d="M171.21 318.2V320" stroke="#222" stroke-width="0.8"/>
<text x="171.21" y="324.8" font-size="5.0" text-anchor="middle" fill="#333" stroke="#444" stroke-width="0.12">R3</text>
<text transform="translate(106.6 283.5) rotate(-90)" font-size="5.1" text-anchor="middle" fill="#222" dy="1.7" stroke="#444" stroke-width="0.12">Relative expression</text>
<rect x="205" y="263" width="15.67" height="52.3" fill="#a9a9a9"/>
<rect x="222.8" y="313.6" width="15.67" height="1.7" fill="#a9a9a9"/>
<rect x="240.6" y="270" width="15.67" height="45.3" fill="#a9a9a9"/>
<path d="M210.93 256.4H214.73M212.83 256.4V268.6M210.93 268.6H214.73" stroke="#111" stroke-width="1.25" fill="none"/>
<path d="M228.73 312.8H232.53M230.63 312.8V314.2M228.73 314.2H232.53" stroke="#111" stroke-width="1.25" fill="none"/>
<path d="M246.53 263.6H250.33M248.43 263.6V275.6M246.53 275.6H250.33" stroke="#111" stroke-width="1.25" fill="none"/>
<path d="M202.9 255V318.3H258" fill="none" stroke="#000" stroke-width="1.5"/>
<path d="M201.1 260.6H202.9" stroke="#222" stroke-width="0.8"/>
<text x="200.5" y="262.9" font-size="5.0" text-anchor="end" fill="#333" stroke="#444" stroke-width="0.12">1500</text>
<path d="M201.1 279H202.9" stroke="#222" stroke-width="0.8"/>
<text x="200.5" y="281.3" font-size="5.0" text-anchor="end" fill="#333" stroke="#444" stroke-width="0.12">1000</text>
<path d="M201.1 298H202.9" stroke="#222" stroke-width="0.8"/>
<text x="200.5" y="300.3" font-size="5.0" text-anchor="end" fill="#333" stroke="#444" stroke-width="0.12">500</text>
<path d="M201.1 317H202.9" stroke="#222" stroke-width="0.8"/>
<text x="200.5" y="319.3" font-size="5.0" text-anchor="end" fill="#333" stroke="#444" stroke-width="0.12">0</text>
<path d="M212.83 318.3V320.1" stroke="#222" stroke-width="0.8"/>
<text x="212.83" y="326.8" font-size="5.0" text-anchor="middle" fill="#333" stroke="#444" stroke-width="0.12">C</text>
<path d="M230.63 318.3V320.1" stroke="#222" stroke-width="0.8"/>
<text x="230.63" y="326.8" font-size="5.0" text-anchor="middle" fill="#333" stroke="#444" stroke-width="0.12">D</text>
<path d="M248.43 318.3V320.1" stroke="#222" stroke-width="0.8"/>
<text x="248.43" y="326.8" font-size="5.0" text-anchor="middle" fill="#333" stroke="#444" stroke-width="0.12">R1</text>
<text transform="translate(185.6 290) rotate(-90)" font-size="5.1" text-anchor="middle" fill="#222" dy="1.7" stroke="#444" stroke-width="0.12">RPKM</text>
<path d="M204.1 249.4V247.8Q204.1 246.6 205.3 246.6H258.3Q259.5 246.6 259.5 247.8V249.4M204.1 254.1V252.5Q204.1 251.3 205.3 251.3H229.9Q231.1 251.3 231.1 252.5V254.1M232.1 254.1V252.5Q232.1 251.3 233.3 251.3H258.3Q259.5 251.3 259.5 252.5V254.1" fill="none" stroke="#555" stroke-width="0.65"/>
<text x="231.2" y="245" font-size="4.5" text-anchor="middle" fill="#333" stroke="#444" stroke-width="0.12">ns</text>
<text x="218" y="252.2" font-size="4.9" text-anchor="middle" fill="#222" font-weight="bold">***</text>
<text x="243.4" y="252.2" font-size="4.9" text-anchor="middle" fill="#222" font-weight="bold">***</text>
<rect x="277.8" y="299.4" width="11.52" height="6" fill="#fff" stroke="#333" stroke-width="0.7"/>
<path d="M277.8 303H289.32" stroke="#222" stroke-width="0.9"/>
<circle cx="283.56" cy="290" r="0.95" fill="#222"/>
<circle cx="283.56" cy="301.5" r="0.95" fill="#222"/>
<circle cx="283.56" cy="305.5" r="0.95" fill="#222"/>
<rect x="293.16" y="313.6" width="11.52" height="0.8" fill="#fff" stroke="#333" stroke-width="0.7"/>
<path d="M293.16 314H304.68" stroke="#222" stroke-width="0.9"/>
<circle cx="298.92" cy="314" r="0.95" fill="#222"/>
<path d="M314.28 256V266.4M314.28 289V294" stroke="#333" stroke-width="0.7"/>
<rect x="308.52" y="266.4" width="11.52" height="22.6" fill="#fff" stroke="#333" stroke-width="0.7"/>
<path d="M308.52 278.4H320.04" stroke="#222" stroke-width="0.9"/>
<circle cx="314.28" cy="256.3" r="0.95" fill="#222"/>
<circle cx="314.28" cy="269.5" r="0.95" fill="#222"/>
<circle cx="314.28" cy="286.5" r="0.95" fill="#222"/>
<circle cx="314.28" cy="293.5" r="0.95" fill="#222"/>
<rect x="323.88" y="277.4" width="11.52" height="28" fill="#fff" stroke="#333" stroke-width="0.7"/>
<path d="M323.88 291.4H335.4" stroke="#222" stroke-width="0.9"/>
<circle cx="329.64" cy="273.5" r="0.95" fill="#222"/>
<circle cx="329.64" cy="278" r="0.95" fill="#222"/>
<circle cx="329.64" cy="305" r="0.95" fill="#222"/>
<text x="284.6" y="286.1" font-size="8.2" text-anchor="middle" fill="#222">ab</text>
<text x="297.6" y="308.1" font-size="8.2" text-anchor="middle" fill="#222">b</text>
<text x="312.4" y="252.3" font-size="8.2" text-anchor="middle" fill="#222">a</text>
<text x="329.64" y="269.5" font-size="8.2" text-anchor="middle" fill="#222">ab</text>
<path d="M274.7 254V318.3H338" fill="none" stroke="#000" stroke-width="1.5"/>
<path d="M272.9 267.7H274.7" stroke="#222" stroke-width="0.8"/>
<text x="270.9" y="270" font-size="5.0" text-anchor="end" fill="#333" stroke="#444" stroke-width="0.12">6</text>
<path d="M272.9 285.6H274.7" stroke="#222" stroke-width="0.8"/>
<text x="270.9" y="287.9" font-size="5.0" text-anchor="end" fill="#333" stroke="#444" stroke-width="0.12">4</text>
<path d="M272.9 303.4H274.7" stroke="#222" stroke-width="0.8"/>
<text x="270.9" y="305.7" font-size="5.0" text-anchor="end" fill="#333" stroke="#444" stroke-width="0.12">2</text>
<path d="M283.56 318.3V320.1" stroke="#222" stroke-width="0.8"/>
<text x="283.56" y="324.8" font-size="5.0" text-anchor="middle" fill="#333" stroke="#444" stroke-width="0.12">C</text>
<path d="M298.92 318.3V320.1" stroke="#222" stroke-width="0.8"/>
<text x="298.92" y="324.8" font-size="5.0" text-anchor="middle" fill="#333" stroke="#444" stroke-width="0.12">D</text>
<path d="M314.28 318.3V320.1" stroke="#222" stroke-width="0.8"/>
<text x="314.28" y="324.8" font-size="5.0" text-anchor="middle" fill="#333" stroke="#444" stroke-width="0.12">R1</text>
<path d="M329.64 318.3V320.1" stroke="#222" stroke-width="0.8"/>
<text x="329.64" y="324.8" font-size="5.0" text-anchor="middle" fill="#333" stroke="#444" stroke-width="0.12">R3</text>
<text transform="translate(264.1 287.6) rotate(-90)" font-size="5.1" text-anchor="middle" fill="#222" dy="1.7" stroke="#444" stroke-width="0.12">Relative expression</text>
<rect x="360.23" y="262.6" width="16.87" height="53.2" fill="#a9a9a9"/>
<rect x="379.13" y="313" width="16.87" height="2.8" fill="#a9a9a9"/>
<rect x="398.03" y="263.6" width="16.87" height="52.2" fill="#a9a9a9"/>
<path d="M366.77 261.6H370.57M368.67 261.6V263.6M366.77 263.6H370.57" stroke="#111" stroke-width="1.25" fill="none"/>
<path d="M385.67 312.4H389.47M387.57 312.4V313.6M385.67 313.6H389.47" stroke="#111" stroke-width="1.25" fill="none"/>
<path d="M404.57 256.6H408.37M406.47 256.6V269.4M404.57 269.4H408.37" stroke="#111" stroke-width="1.25" fill="none"/>
<path d="M357.9 255V318.2H417" fill="none" stroke="#000" stroke-width="1.5"/>
<path d="M356.1 272.4H357.9" stroke="#222" stroke-width="0.8"/>
<text x="356.5" y="274.7" font-size="5.0" text-anchor="end" fill="#333" stroke="#444" stroke-width="0.12">100</text>
<path d="M356.1 294.6H357.9" stroke="#222" stroke-width="0.8"/>
<text x="356.5" y="296.9" font-size="5.0" text-anchor="end" fill="#333" stroke="#444" stroke-width="0.12">50</text>
<path d="M356.1 316.6H357.9" stroke="#222" stroke-width="0.8"/>
<text x="356.5" y="318.9" font-size="5.0" text-anchor="end" fill="#333" stroke="#444" stroke-width="0.12">0</text>
<path d="M368.67 318.2V320" stroke="#222" stroke-width="0.8"/>
<text x="368.67" y="326.8" font-size="5.0" text-anchor="middle" fill="#333" stroke="#444" stroke-width="0.12">C</text>
<path d="M387.57 318.2V320" stroke="#222" stroke-width="0.8"/>
<text x="387.57" y="326.8" font-size="5.0" text-anchor="middle" fill="#333" stroke="#444" stroke-width="0.12">D</text>
<path d="M406.47 318.2V320" stroke="#222" stroke-width="0.8"/>
<text x="406.47" y="326.8" font-size="5.0" text-anchor="middle" fill="#333" stroke="#444" stroke-width="0.12">R1</text>
<text transform="translate(343.3 287.2) rotate(-90)" font-size="5.1" text-anchor="middle" fill="#222" dy="1.7" stroke="#444" stroke-width="0.12">RPKM</text>
<path d="M360.3 249.9V248.3Q360.3 247.1 361.5 247.1H412.8Q414 247.1 414 248.3V249.9M360.3 255.8V254.2Q360.3 253 361.5 253H385.3Q386.5 253 386.5 254.2V255.8M387.5 255.8V254.2Q387.5 253 388.7 253H412.8Q414 253 414 254.2V255.8" fill="none" stroke="#555" stroke-width="0.65"/>
<text x="386" y="245.6" font-size="4.5" text-anchor="middle" fill="#333" stroke="#444" stroke-width="0.12">ns</text>
<text x="375" y="253.6" font-size="4.9" text-anchor="middle" fill="#222" font-weight="bold">***</text>
<text x="399.6" y="253.6" font-size="4.9" text-anchor="middle" fill="#222" font-weight="bold">***</text>
<path d="M447.63 270V272" stroke="#333" stroke-width="0.7"/>
<rect x="442.35" y="272" width="10.56" height="4" fill="#fff" stroke="#333" stroke-width="0.7"/>
<path d="M442.35 272.6H452.91" stroke="#222" stroke-width="0.9"/>
<circle cx="447.63" cy="270" r="0.95" fill="#222"/>
<circle cx="447.63" cy="285" r="0.95" fill="#222"/>
<rect x="456.43" y="308.4" width="10.56" height="6" fill="#fff" stroke="#333" stroke-width="0.7"/>
<path d="M456.43 311.4H466.99" stroke="#222" stroke-width="0.9"/>
<circle cx="461.71" cy="307.5" r="0.95" fill="#222"/>
<circle cx="461.71" cy="315" r="0.95" fill="#222"/>
<path d="M475.79 257V264M475.79 274.6V277.4" stroke="#333" stroke-width="0.7"/>
<rect x="470.51" y="264" width="10.56" height="10.6" fill="#fff" stroke="#333" stroke-width="0.7"/>
<path d="M470.51 269H481.07" stroke="#222" stroke-width="0.9"/>
<circle cx="475.79" cy="257.3" r="0.95" fill="#222"/>
<circle cx="475.79" cy="267.5" r="0.95" fill="#222"/>
<circle cx="475.79" cy="277" r="0.95" fill="#222"/>
<rect x="484.59" y="275" width="10.56" height="14.4" fill="#fff" stroke="#333" stroke-width="0.7"/>
<path d="M484.59 282H495.15" stroke="#222" stroke-width="0.9"/>
<circle cx="489.87" cy="275.5" r="0.95" fill="#222"/>
<circle cx="489.87" cy="289" r="0.95" fill="#222"/>
<text x="447.63" y="265.9" font-size="8.2" text-anchor="middle" fill="#222">a</text>
<text x="460.6" y="304.9" font-size="8.2" text-anchor="middle" fill="#222">b</text>
<text x="474.6" y="254.3" font-size="8.2" text-anchor="middle" fill="#222">a</text>
<text x="489.87" y="271.9" font-size="8.2" text-anchor="middle" fill="#222">a</text>
<path d="M439.9 254.6V318.1H499" fill="none" stroke="#000" stroke-width="1.5"/>
<path d="M438.1 266.6H439.9" stroke="#222" stroke-width="0.8"/>
<text x="436.9" y="268.9" font-size="5.0" text-anchor="end" fill="#333" stroke="#444" stroke-width="0.12">0.75</text>
<path d="M438.1 285H439.9" stroke="#222" stroke-width="0.8"/>
<text x="436.9" y="287.3" font-size="5.0" text-anchor="end" fill="#333" stroke="#444" stroke-width="0.12">0.50</text>
<path d="M438.1 303.6H439.9" stroke="#222" stroke-width="0.8"/>
<text x="436.9" y="305.9" font-size="5.0" text-anchor="end" fill="#333" stroke="#444" stroke-width="0.12">0.25</text>
<path d="M447.63 318.1V319.9" stroke="#222" stroke-width="0.8"/>
<text x="447.63" y="324.4" font-size="5.0" text-anchor="middle" fill="#333" stroke="#444" stroke-width="0.12">C</text>
<path d="M461.71 318.1V319.9" stroke="#222" stroke-width="0.8"/>
<text x="461.71" y="324.4" font-size="5.0" text-anchor="middle" fill="#333" stroke="#444" stroke-width="0.12">D</text>
<path d="M475.79 318.1V319.9" stroke="#222" stroke-width="0.8"/>
<text x="475.79" y="324.4" font-size="5.0" text-anchor="middle" fill="#333" stroke="#444" stroke-width="0.12">R1</text>
<path d="M489.87 318.1V319.9" stroke="#222" stroke-width="0.8"/>
<text x="489.87" y="324.4" font-size="5.0" text-anchor="middle" fill="#333" stroke="#444" stroke-width="0.12">R3</text>
<text transform="translate(422.1 286.1) rotate(-90)" font-size="5.1" text-anchor="middle" fill="#222" dy="1.7" stroke="#444" stroke-width="0.12">Relative expression</text>
<rect x="46.31" y="369" width="16.73" height="51.9" fill="#a9a9a9"/>
<rect x="65.63" y="411.5" width="16.73" height="9.4" fill="#a9a9a9"/>
<rect x="84.96" y="411" width="16.73" height="9.9" fill="#a9a9a9"/>
<path d="M52.77 361.5H56.57M54.67 361.5V376M52.77 376H56.57" stroke="#111" stroke-width="1.25" fill="none"/>
<path d="M72.1 410.6H75.9M74 410.6V412.4M72.1 412.4H75.9" stroke="#111" stroke-width="1.25" fill="none"/>
<path d="M91.42 409H95.23M93.33 409V413M91.42 413H95.23" stroke="#111" stroke-width="1.25" fill="none"/>
<path d="M43.5 359V423.7H101.8" fill="none" stroke="#000" stroke-width="1.5"/>
<path d="M41.7 369.5H43.5" stroke="#222" stroke-width="0.8"/>
<text x="39.8" y="371.8" font-size="5.0" text-anchor="end" fill="#333" stroke="#444" stroke-width="0.12">200</text>
<path d="M41.7 382.2H43.5" stroke="#222" stroke-width="0.8"/>
<text x="39.8" y="384.5" font-size="5.0" text-anchor="end" fill="#333" stroke="#444" stroke-width="0.12">150</text>
<path d="M41.7 395.5H43.5" stroke="#222" stroke-width="0.8"/>
<text x="39.8" y="397.8" font-size="5.0" text-anchor="end" fill="#333" stroke="#444" stroke-width="0.12">100</text>
<path d="M41.7 408.7H43.5" stroke="#222" stroke-width="0.8"/>
<text x="39.8" y="411" font-size="5.0" text-anchor="end" fill="#333" stroke="#444" stroke-width="0.12">50</text>
<path d="M41.7 422.7H43.5" stroke="#222" stroke-width="0.8"/>
<text x="39.8" y="425" font-size="5.0" text-anchor="end" fill="#333" stroke="#444" stroke-width="0.12">0</text>
<path d="M54.67 423.7V425.5" stroke="#222" stroke-width="0.8"/>
<text x="54.67" y="431.8" font-size="5.0" text-anchor="middle" fill="#333" stroke="#444" stroke-width="0.12">C</text>
<path d="M74 423.7V425.5" stroke="#222" stroke-width="0.8"/>
<text x="74" y="431.8" font-size="5.0" text-anchor="middle" fill="#333" stroke="#444" stroke-width="0.12">D</text>
<path d="M93.33 423.7V425.5" stroke="#222" stroke-width="0.8"/>
<text x="93.33" y="431.8" font-size="5.0" text-anchor="middle" fill="#333" stroke="#444" stroke-width="0.12">R1</text>
<text transform="translate(26.6 396.2) rotate(-90)" font-size="5.1" text-anchor="middle" fill="#222" dy="1.7" stroke="#444" stroke-width="0.12">RPKM</text>
<path d="M46.6 357.7V356.1Q46.6 354.9 47.8 354.9H100.3Q101.5 354.9 101.5 356.1V357.7M46.6 361.5V359.9Q46.6 358.7 47.8 358.7H72.3Q73.5 358.7 73.5 359.9V361.5M74.5 361.5V359.9Q74.5 358.7 75.7 358.7H100.3Q101.5 358.7 101.5 359.9V361.5" fill="none" stroke="#555" stroke-width="0.65"/>
<text x="73.6" y="354.9" font-size="4.9" text-anchor="middle" fill="#222" font-weight="bold">***</text>
<text x="60.3" y="359.8" font-size="4.9" text-anchor="middle" fill="#222" font-weight="bold">***</text>
<text x="88.2" y="357.9" font-size="4.5" text-anchor="middle" fill="#333" stroke="#444" stroke-width="0.12">ns</text>
<path d="M131.03 362V380.4M131.03 394.4V401" stroke="#333" stroke-width="0.7"/>
<rect x="125.84" y="380.4" width="10.37" height="14" fill="#fff" stroke="#333" stroke-width="0.7"/>
<path d="M125.84 389.4H136.22" stroke="#222" stroke-width="0.9"/>
<circle cx="131.03" cy="362.3" r="0.95" fill="#222"/>
<circle cx="131.03" cy="386" r="0.95" fill="#222"/>
<circle cx="131.03" cy="392" r="0.95" fill="#222"/>
<circle cx="131.03" cy="400.6" r="0.95" fill="#222"/>
<rect x="139.67" y="415" width="10.37" height="5.4" fill="#fff" stroke="#333" stroke-width="0.7"/>
<path d="M139.67 419.6H150.05" stroke="#222" stroke-width="0.9"/>
<circle cx="144.86" cy="403.4" r="0.95" fill="#222"/>
<circle cx="144.86" cy="420" r="0.95" fill="#222"/>
<path d="M158.69 417.4V421" stroke="#333" stroke-width="0.7"/>
<rect x="153.5" y="412" width="10.37" height="5.4" fill="#fff" stroke="#333" stroke-width="0.7"/>
<path d="M153.5 415.6H163.88" stroke="#222" stroke-width="0.9"/>
<circle cx="158.69" cy="403.4" r="0.95" fill="#222"/>
<circle cx="158.69" cy="416" r="0.95" fill="#222"/>
<circle cx="158.69" cy="420.6" r="0.95" fill="#222"/>
<rect x="167.33" y="399" width="10.37" height="15.4" fill="#fff" stroke="#333" stroke-width="0.7"/>
<path d="M167.33 406.4H177.71" stroke="#222" stroke-width="0.9"/>
<circle cx="172.52" cy="399" r="0.95" fill="#222"/>
<circle cx="172.52" cy="414" r="0.95" fill="#222"/>
<text x="131.03" y="357.3" font-size="8.2" text-anchor="middle" fill="#222">a</text>
<text x="144.86" y="397.9" font-size="8.2" text-anchor="middle" fill="#222">b</text>
<text x="158.69" y="397.9" font-size="8.2" text-anchor="middle" fill="#222">b</text>
<text x="172.52" y="393.1" font-size="8.2" text-anchor="middle" fill="#222">ab</text>
<path d="M122.9 360V423.8H181" fill="none" stroke="#000" stroke-width="1.5"/>
<path d="M121.1 360.4H122.9" stroke="#222" stroke-width="0.8"/>
<text x="119.8" y="362.7" font-size="5.0" text-anchor="end" fill="#333" stroke="#444" stroke-width="0.12">1.1</text>
<path d="M121.1 377H122.9" stroke="#222" stroke-width="0.8"/>
<text x="119.8" y="379.3" font-size="5.0" text-anchor="end" fill="#333" stroke="#444" stroke-width="0.12">0.9</text>
<path d="M121.1 392.6H122.9" stroke="#222" stroke-width="0.8"/>
<text x="119.8" y="394.9" font-size="5.0" text-anchor="end" fill="#333" stroke="#444" stroke-width="0.12">0.7</text>
<path d="M121.1 409H122.9" stroke="#222" stroke-width="0.8"/>
<text x="119.8" y="411.3" font-size="5.0" text-anchor="end" fill="#333" stroke="#444" stroke-width="0.12">0.5</text>
<path d="M131.03 423.8V425.6" stroke="#222" stroke-width="0.8"/>
<text x="131.03" y="430.8" font-size="5.0" text-anchor="middle" fill="#333" stroke="#444" stroke-width="0.12">C</text>
<path d="M144.86 423.8V425.6" stroke="#222" stroke-width="0.8"/>
<text x="144.86" y="430.8" font-size="5.0" text-anchor="middle" fill="#333" stroke="#444" stroke-width="0.12">D</text>
<path d="M158.69 423.8V425.6" stroke="#222" stroke-width="0.8"/>
<text x="158.69" y="430.8" font-size="5.0" text-anchor="middle" fill="#333" stroke="#444" stroke-width="0.12">R1</text>
<path d="M172.52 423.8V425.6" stroke="#222" stroke-width="0.8"/>
<text x="172.52" y="430.8" font-size="5.0" text-anchor="middle" fill="#333" stroke="#444" stroke-width="0.12">R3</text>
<text transform="translate(109.4 393.8) rotate(-90)" font-size="5.1" text-anchor="middle" fill="#222" dy="1.7" stroke="#444" stroke-width="0.12">Relative expression</text>
<rect x="203" y="369.6" width="17" height="51.3" fill="#a9a9a9"/>
<rect x="222" y="420" width="17" height="0.9" fill="#a9a9a9"/>
<rect x="241" y="417" width="17" height="3.9" fill="#a9a9a9"/>
<path d="M209.6 362.6H213.4M211.5 362.6V376.4M209.6 376.4H213.4" stroke="#111" stroke-width="1.25" fill="none"/>
<path d="M228.6 418H232.4M230.5 418V420.4M228.6 420.4H232.4" stroke="#111" stroke-width="1.25" fill="none"/>
<path d="M247.6 415H251.4M249.5 415V418M247.6 418H251.4" stroke="#111" stroke-width="1.25" fill="none"/>
<path d="M200.3 360.4V423.9H258" fill="none" stroke="#000" stroke-width="1.5"/>
<path d="M198.5 363.2H200.3" stroke="#222" stroke-width="0.8"/>
<text x="197.8" y="365.5" font-size="5.0" text-anchor="end" fill="#333" stroke="#444" stroke-width="0.12">20</text>
<path d="M198.5 377.8H200.3" stroke="#222" stroke-width="0.8"/>
<text x="197.8" y="380.1" font-size="5.0" text-anchor="end" fill="#333" stroke="#444" stroke-width="0.12">15</text>
<path d="M198.5 392.4H200.3" stroke="#222" stroke-width="0.8"/>
<text x="197.8" y="394.7" font-size="5.0" text-anchor="end" fill="#333" stroke="#444" stroke-width="0.12">10</text>
<path d="M198.5 406.9H200.3" stroke="#222" stroke-width="0.8"/>
<text x="197.8" y="409.2" font-size="5.0" text-anchor="end" fill="#333" stroke="#444" stroke-width="0.12">5</text>
<path d="M198.5 421.5H200.3" stroke="#222" stroke-width="0.8"/>
<text x="197.8" y="423.8" font-size="5.0" text-anchor="end" fill="#333" stroke="#444" stroke-width="0.12">0</text>
<path d="M211.5 423.9V425.7" stroke="#222" stroke-width="0.8"/>
<text x="211.5" y="431.2" font-size="5.0" text-anchor="middle" fill="#333" stroke="#444" stroke-width="0.12">C</text>
<path d="M230.5 423.9V425.7" stroke="#222" stroke-width="0.8"/>
<text x="230.5" y="431.2" font-size="5.0" text-anchor="middle" fill="#333" stroke="#444" stroke-width="0.12">D</text>
<path d="M249.5 423.9V425.7" stroke="#222" stroke-width="0.8"/>
<text x="249.5" y="431.2" font-size="5.0" text-anchor="middle" fill="#333" stroke="#444" stroke-width="0.12">R1</text>
<text transform="translate(188 392.4) rotate(-90)" font-size="5.1" text-anchor="middle" fill="#222" dy="1.7" stroke="#444" stroke-width="0.12">RPKM</text>
<path d="M204.3 357.7V356.1Q204.3 354.9 205.5 354.9H258.3Q259.5 354.9 259.5 356.1V357.7M204.3 361.5V359.9Q204.3 358.7 205.5 358.7H229.9Q231.1 358.7 231.1 359.9V361.5M232.1 361.5V359.9Q232.1 358.7 233.3 358.7H258.3Q259.5 358.7 259.5 359.9V361.5" fill="none" stroke="#555" stroke-width="0.65"/>
<text x="231.2" y="354.9" font-size="4.9" text-anchor="middle" fill="#222" font-weight="bold">***</text>
<text x="217.6" y="360.2" font-size="4.9" text-anchor="middle" fill="#222" font-weight="bold">***</text>
<text x="244.9" y="358.3" font-size="4.5" text-anchor="middle" fill="#333" stroke="#444" stroke-width="0.12">ns</text>
<path d="M291.03 362.4V366.6M291.03 387V390" stroke="#333" stroke-width="0.7"/>
<rect x="285.9" y="366.6" width="10.26" height="20.4" fill="#fff" stroke="#333" stroke-width="0.7"/>
<path d="M285.9 376.4H296.16" stroke="#222" stroke-width="0.9"/>
<circle cx="291.03" cy="362.7" r="0.95" fill="#222"/>
<circle cx="291.03" cy="368.5" r="0.95" fill="#222"/>
<circle cx="291.03" cy="386" r="0.95" fill="#222"/>
<circle cx="291.03" cy="389.6" r="0.95" fill="#222"/>
<rect x="299.58" y="419.4" width="10.26" height="1.6" fill="#fff" stroke="#333" stroke-width="0.7"/>
<path d="M299.58 420.2H309.84" stroke="#222" stroke-width="0.9"/>
<circle cx="304.71" cy="420" r="0.95" fill="#222"/>
<rect x="313.26" y="417.4" width="10.26" height="1.2" fill="#fff" stroke="#333" stroke-width="0.7"/>
<path d="M313.26 418H323.52" stroke="#222" stroke-width="0.9"/>
<circle cx="318.39" cy="414" r="0.95" fill="#222"/>
<circle cx="318.39" cy="418.5" r="0.95" fill="#222"/>
<rect x="326.94" y="411.6" width="10.26" height="2.8" fill="#fff" stroke="#333" stroke-width="0.7"/>
<path d="M326.94 413H337.2" stroke="#222" stroke-width="0.9"/>
<circle cx="332.07" cy="411" r="0.95" fill="#222"/>
<circle cx="332.07" cy="414.5" r="0.95" fill="#222"/>
<text x="291.03" y="358.9" font-size="8.2" text-anchor="middle" fill="#222">a</text>
<text x="304.71" y="409.5" font-size="8.2" text-anchor="middle" fill="#222">b</text>
<text x="318.39" y="409.5" font-size="8.2" text-anchor="middle" fill="#222">b</text>
<text x="332.07" y="406.5" font-size="8.2" text-anchor="middle" fill="#222">b</text>
<path d="M283 360V424.1H341" fill="none" stroke="#000" stroke-width="1.5"/>
<path d="M281.2 375.6H283" stroke="#222" stroke-width="0.8"/>
<text x="280.5" y="377.9" font-size="5.0" text-anchor="end" fill="#333" stroke="#444" stroke-width="0.12">0.009</text>
<path d="M281.2 392.4H283" stroke="#222" stroke-width="0.8"/>
<text x="280.5" y="394.7" font-size="5.0" text-anchor="end" fill="#333" stroke="#444" stroke-width="0.12">0.006</text>
<path d="M281.2 409.4H283" stroke="#222" stroke-width="0.8"/>
<text x="280.5" y="411.7" font-size="5.0" text-anchor="end" fill="#333" stroke="#444" stroke-width="0.12">0.003</text>
<path d="M291.03 424.1V425.9" stroke="#222" stroke-width="0.8"/>
<text x="291.03" y="431.2" font-size="5.0" text-anchor="middle" fill="#333" stroke="#444" stroke-width="0.12">C</text>
<path d="M304.71 424.1V425.9" stroke="#222" stroke-width="0.8"/>
<text x="304.71" y="431.2" font-size="5.0" text-anchor="middle" fill="#333" stroke="#444" stroke-width="0.12">D</text>
<path d="M318.39 424.1V425.9" stroke="#222" stroke-width="0.8"/>
<text x="318.39" y="431.2" font-size="5.0" text-anchor="middle" fill="#333" stroke="#444" stroke-width="0.12">R1</text>
<path d="M332.07 424.1V425.9" stroke="#222" stroke-width="0.8"/>
<text x="332.07" y="431.2" font-size="5.0" text-anchor="middle" fill="#333" stroke="#444" stroke-width="0.12">R3</text>
<text transform="translate(264.4 397.3) rotate(-90)" font-size="5.1" text-anchor="middle" fill="#222" dy="1.7" stroke="#444" stroke-width="0.12">Relative expression</text>
<rect x="359.77" y="367.6" width="17" height="54.2" fill="#a9a9a9"/>
<rect x="378.87" y="420" width="17" height="1.8" fill="#a9a9a9"/>
<rect x="397.97" y="414.6" width="17" height="7.2" fill="#a9a9a9"/>
<path d="M366.37 361.6H370.17M368.27 361.6V373M366.37 373H370.17" stroke="#111" stroke-width="1.25" fill="none"/>
<path d="M385.47 418.4H389.27M387.37 418.4V422M385.47 422H389.27" stroke="#111" stroke-width="1.25" fill="none"/>
<path d="M404.57 408.6H408.37M406.47 408.6V420M404.57 420H408.37" stroke="#111" stroke-width="1.25" fill="none"/>
<path d="M356.3 359.6V425.1H417" fill="none" stroke="#000" stroke-width="1.5"/>
<path d="M354.5 365.9H356.3" stroke="#222" stroke-width="0.8"/>
<text x="352.8" y="368.2" font-size="5.0" text-anchor="end" fill="#333" stroke="#444" stroke-width="0.12">40</text>
<path d="M354.5 379.9H356.3" stroke="#222" stroke-width="0.8"/>
<text x="352.8" y="382.2" font-size="5.0" text-anchor="end" fill="#333" stroke="#444" stroke-width="0.12">30</text>
<path d="M354.5 393.9H356.3" stroke="#222" stroke-width="0.8"/>
<text x="352.8" y="396.2" font-size="5.0" text-anchor="end" fill="#333" stroke="#444" stroke-width="0.12">20</text>
<path d="M354.5 408H356.3" stroke="#222" stroke-width="0.8"/>
<text x="352.8" y="410.3" font-size="5.0" text-anchor="end" fill="#333" stroke="#444" stroke-width="0.12">10</text>
<path d="M354.5 422H356.3" stroke="#222" stroke-width="0.8"/>
<text x="352.8" y="424.3" font-size="5.0" text-anchor="end" fill="#333" stroke="#444" stroke-width="0.12">0</text>
<path d="M368.27 425.1V426.9" stroke="#222" stroke-width="0.8"/>
<text x="368.27" y="431.2" font-size="5.0" text-anchor="middle" fill="#333" stroke="#444" stroke-width="0.12">C</text>
<path d="M387.37 425.1V426.9" stroke="#222" stroke-width="0.8"/>
<text x="387.37" y="431.2" font-size="5.0" text-anchor="middle" fill="#333" stroke="#444" stroke-width="0.12">D</text>
<path d="M406.47 425.1V426.9" stroke="#222" stroke-width="0.8"/>
<text x="406.47" y="431.2" font-size="5.0" text-anchor="middle" fill="#333" stroke="#444" stroke-width="0.12">R1</text>
<text transform="translate(343.3 391.5) rotate(-90)" font-size="5.1" text-anchor="middle" fill="#222" dy="1.7" stroke="#444" stroke-width="0.12">RPKM</text>
<path d="M360.7 356.3V354.7Q360.7 353.5 361.9 353.5H414Q415.2 353.5 415.2 354.7V356.3M360.7 361.8V360.2Q360.7 359 361.9 359H386Q387.2 359 387.2 360.2V361.8M388.2 361.8V360.2Q388.2 359 389.4 359H414Q415.2 359 415.2 360.2V361.8" fill="none" stroke="#555" stroke-width="0.65"/>
<text x="387.3" y="353.5" font-size="4.9" text-anchor="middle" fill="#222" font-weight="bold">***</text>
<text x="374" y="359.5" font-size="4.9" text-anchor="middle" fill="#222" font-weight="bold">***</text>
<text x="402.1" y="357.6" font-size="4.5" text-anchor="middle" fill="#333" stroke="#444" stroke-width="0.12">ns</text>
<path d="M444.96 361V364.4M444.96 384.6V393" stroke="#333" stroke-width="0.7"/>
<rect x="439.37" y="364.4" width="11.18" height="20.2" fill="#fff" stroke="#333" stroke-width="0.7"/>
<path d="M439.37 373H450.55" stroke="#222" stroke-width="0.9"/>
<circle cx="444.96" cy="361.3" r="0.95" fill="#222"/>
<circle cx="444.96" cy="366" r="0.95" fill="#222"/>
<circle cx="444.96" cy="382" r="0.95" fill="#222"/>
<circle cx="444.96" cy="392.6" r="0.95" fill="#222"/>
<rect x="454.28" y="420.2" width="11.18" height="0.8" fill="#fff" stroke="#333" stroke-width="0.7"/>
<path d="M454.28 420.6H465.46" stroke="#222" stroke-width="0.9"/>
<circle cx="459.87" cy="418" r="0.95" fill="#222"/>
<circle cx="459.87" cy="421" r="0.95" fill="#222"/>
<rect x="469.19" y="419" width="11.18" height="3" fill="#fff" stroke="#333" stroke-width="0.7"/>
<path d="M469.19 420.5H480.37" stroke="#222" stroke-width="0.9"/>
<circle cx="474.78" cy="419.5" r="0.95" fill="#222"/>
<circle cx="474.78" cy="421.5" r="0.95" fill="#222"/>
<rect x="484.1" y="409" width="11.18" height="4" fill="#fff" stroke="#333" stroke-width="0.7"/>
<path d="M484.1 411H495.28" stroke="#222" stroke-width="0.9"/>
<circle cx="489.69" cy="403.5" r="0.95" fill="#222"/>
<circle cx="489.69" cy="411" r="0.95" fill="#222"/>
<circle cx="489.69" cy="416" r="0.95" fill="#222"/>
<text x="444.96" y="357.9" font-size="8.2" text-anchor="middle" fill="#222">a</text>
<text x="459.87" y="412.1" font-size="8.2" text-anchor="middle" fill="#222">b</text>
<text x="474.78" y="412.1" font-size="8.2" text-anchor="middle" fill="#222">b</text>
<text x="489.69" y="398.5" font-size="8.2" text-anchor="middle" fill="#222">b</text>
<path d="M436 360V424.6H498" fill="none" stroke="#000" stroke-width="1.5"/>
<path d="M434.2 368H436" stroke="#222" stroke-width="0.8"/>
<text x="434" y="370.3" font-size="5.0" text-anchor="end" fill="#333" stroke="#444" stroke-width="0.12">0.20</text>
<path d="M434.2 384.2H436" stroke="#222" stroke-width="0.8"/>
<text x="434" y="386.5" font-size="5.0" text-anchor="end" fill="#333" stroke="#444" stroke-width="0.12">0.15</text>
<path d="M434.2 400.5H436" stroke="#222" stroke-width="0.8"/>
<text x="434" y="402.8" font-size="5.0" text-anchor="end" fill="#333" stroke="#444" stroke-width="0.12">0.10</text>
<path d="M434.2 416.7H436" stroke="#222" stroke-width="0.8"/>
<text x="434" y="419" font-size="5.0" text-anchor="end" fill="#333" stroke="#444" stroke-width="0.12">0.05</text>
<path d="M444.96 424.6V426.4" stroke="#222" stroke-width="0.8"/>
<text x="444.96" y="431.2" font-size="5.0" text-anchor="middle" fill="#333" stroke="#444" stroke-width="0.12">C</text>
<path d="M459.87 424.6V426.4" stroke="#222" stroke-width="0.8"/>
<text x="459.87" y="431.2" font-size="5.0" text-anchor="middle" fill="#333" stroke="#444" stroke-width="0.12">D</text>
<path d="M474.78 424.6V426.4" stroke="#222" stroke-width="0.8"/>
<text x="474.78" y="431.2" font-size="5.0" text-anchor="middle" fill="#333" stroke="#444" stroke-width="0.12">R1</text>
<path d="M489.69 424.6V426.4" stroke="#222" stroke-width="0.8"/>
<text x="489.69" y="431.2" font-size="5.0" text-anchor="middle" fill="#333" stroke="#444" stroke-width="0.12">R3</text>
<text transform="translate(420.1 389.8) rotate(-90)" font-size="5.1" text-anchor="middle" fill="#222" dy="1.7" stroke="#444" stroke-width="0.12">Relative expression</text>
<rect x="43.19" y="532.6" width="16.97" height="0.6" fill="#a9a9a9"/>
<rect x="62.97" y="532.6" width="16.97" height="0.6" fill="#a9a9a9"/>
<rect x="82.74" y="483" width="16.97" height="50.2" fill="#a9a9a9"/>
<path d="M49.78 532.6H53.58M51.68 532.6V533.8M49.78 533.8H53.58" stroke="#111" stroke-width="1.25" fill="none"/>
<path d="M69.55 532.6H73.35M71.45 532.6V533.8M69.55 533.8H73.35" stroke="#111" stroke-width="1.25" fill="none"/>
<path d="M89.32 474.8H93.12M91.22 474.8V491.6M89.32 491.6H93.12" stroke="#111" stroke-width="1.25" fill="none"/>
<path d="M40.1 473.2V535.6H100" fill="none" stroke="#000" stroke-width="1.5"/>
<path d="M38.3 482.4H40.1" stroke="#222" stroke-width="0.8"/>
<text x="38.4" y="484.7" font-size="5.0" text-anchor="end" fill="#333" stroke="#444" stroke-width="0.12">20</text>
<path d="M38.3 495H40.1" stroke="#222" stroke-width="0.8"/>
<text x="38.4" y="497.3" font-size="5.0" text-anchor="end" fill="#333" stroke="#444" stroke-width="0.12">15</text>
<path d="M38.3 508.2H40.1" stroke="#222" stroke-width="0.8"/>
<text x="38.4" y="510.5" font-size="5.0" text-anchor="end" fill="#333" stroke="#444" stroke-width="0.12">10</text>
<path d="M38.3 521.3H40.1" stroke="#222" stroke-width="0.8"/>
<text x="38.4" y="523.6" font-size="5.0" text-anchor="end" fill="#333" stroke="#444" stroke-width="0.12">5</text>
<path d="M38.3 533.7H40.1" stroke="#222" stroke-width="0.8"/>
<text x="38.4" y="536" font-size="5.0" text-anchor="end" fill="#333" stroke="#444" stroke-width="0.12">0</text>
<path d="M51.68 535.6V537.4" stroke="#222" stroke-width="0.8"/>
<text x="51.68" y="544.2" font-size="5.0" text-anchor="middle" fill="#333" stroke="#444" stroke-width="0.12">C</text>
<path d="M71.45 535.6V537.4" stroke="#222" stroke-width="0.8"/>
<text x="71.45" y="544.2" font-size="5.0" text-anchor="middle" fill="#333" stroke="#444" stroke-width="0.12">D</text>
<path d="M91.22 535.6V537.4" stroke="#222" stroke-width="0.8"/>
<text x="91.22" y="544.2" font-size="5.0" text-anchor="middle" fill="#333" stroke="#444" stroke-width="0.12">R1</text>
<text transform="translate(27.1 503.3) rotate(-90)" font-size="5.1" text-anchor="middle" fill="#222" dy="1.7" stroke="#444" stroke-width="0.12">RPKM</text>
<path d="M43.3 468.9V467.3Q43.3 466.1 44.5 466.1H96.4Q97.6 466.1 97.6 467.3V468.9M43.3 474.8V473.2Q43.3 472 44.5 472H69Q70.2 472 70.2 473.2V474.8M71.2 474.8V473.2Q71.2 472 72.4 472H96.4Q97.6 472 97.6 473.2V474.8" fill="none" stroke="#555" stroke-width="0.65"/>
<text x="70.3" y="467.2" font-size="4.9" text-anchor="middle" fill="#222" font-weight="bold">***</text>
<text x="57" y="470.6" font-size="4.5" text-anchor="middle" fill="#333" stroke="#444" stroke-width="0.12">ns</text>
<text x="83.4" y="472.5" font-size="4.9" text-anchor="middle" fill="#222" font-weight="bold">***</text>
<rect x="128.83" y="532.3" width="9.73" height="0.8" fill="#fff" stroke="#333" stroke-width="0.7"/>
<path d="M128.83 532.7H138.56" stroke="#222" stroke-width="0.9"/>
<circle cx="133.69" cy="532.7" r="0.95" fill="#222"/>
<rect x="141.8" y="532.3" width="9.73" height="0.8" fill="#fff" stroke="#333" stroke-width="0.7"/>
<path d="M141.8 532.7H151.53" stroke="#222" stroke-width="0.9"/>
<circle cx="146.66" cy="532.7" r="0.95" fill="#222"/>
<rect x="154.77" y="482.4" width="9.73" height="6.1" fill="#fff" stroke="#333" stroke-width="0.7"/>
<path d="M154.77 485.7H164.5" stroke="#222" stroke-width="0.9"/>
<circle cx="159.64" cy="475.4" r="0.95" fill="#222"/>
<circle cx="159.64" cy="487" r="0.95" fill="#222"/>
<circle cx="159.64" cy="488.8" r="0.95" fill="#222"/>
<rect x="167.74" y="498.4" width="9.73" height="8.5" fill="#fff" stroke="#333" stroke-width="0.7"/>
<path d="M167.74 502.5H177.47" stroke="#222" stroke-width="0.9"/>
<circle cx="172.61" cy="496.5" r="0.95" fill="#222"/>
<circle cx="172.61" cy="505" r="0.95" fill="#222"/>
<circle cx="172.61" cy="507.5" r="0.95" fill="#222"/>
<text x="133.69" y="527.3" font-size="8.2" text-anchor="middle" fill="#222">c</text>
<text x="146.66" y="527.3" font-size="8.2" text-anchor="middle" fill="#222">c</text>
<text x="159.64" y="473.3" font-size="8.2" text-anchor="middle" fill="#222">a</text>
<text x="172.61" y="492" font-size="8.2" text-anchor="middle" fill="#222">b</text>
<path d="M125.4 472.6V536.3H179.6" fill="none" stroke="#000" stroke-width="1.5"/>
<path d="M123.6 474.8H125.4" stroke="#222" stroke-width="0.8"/>
<text x="122.5" y="477.1" font-size="5.0" text-anchor="end" fill="#333" stroke="#444" stroke-width="0.12">0.25</text>
<path d="M123.6 486.8H125.4" stroke="#222" stroke-width="0.8"/>
<text x="122.5" y="489.1" font-size="5.0" text-anchor="end" fill="#333" stroke="#444" stroke-width="0.12">0.20</text>
<path d="M123.6 498.8H125.4" stroke="#222" stroke-width="0.8"/>
<text x="122.5" y="501.1" font-size="5.0" text-anchor="end" fill="#333" stroke="#444" stroke-width="0.12">0.15</text>
<path d="M123.6 510.4H125.4" stroke="#222" stroke-width="0.8"/>
<text x="122.5" y="512.7" font-size="5.0" text-anchor="end" fill="#333" stroke="#444" stroke-width="0.12">0.10</text>
<path d="M123.6 522.2H125.4" stroke="#222" stroke-width="0.8"/>
<text x="122.5" y="524.5" font-size="5.0" text-anchor="end" fill="#333" stroke="#444" stroke-width="0.12">0.05</text>
<path d="M123.6 533.8H125.4" stroke="#222" stroke-width="0.8"/>
<text x="122.5" y="536.1" font-size="5.0" text-anchor="end" fill="#333" stroke="#444" stroke-width="0.12">0.00</text>
<path d="M133.69 536.3V538.1" stroke="#222" stroke-width="0.8"/>
<text x="133.69" y="543.6" font-size="5.0" text-anchor="middle" fill="#333" stroke="#444" stroke-width="0.12">C</text>
<path d="M146.66 536.3V538.1" stroke="#222" stroke-width="0.8"/>
<text x="146.66" y="543.6" font-size="5.0" text-anchor="middle" fill="#333" stroke="#444" stroke-width="0.12">D</text>
<path d="M159.64 536.3V538.1" stroke="#222" stroke-width="0.8"/>
<text x="159.64" y="543.6" font-size="5.0" text-anchor="middle" fill="#333" stroke="#444" stroke-width="0.12">R1</text>
<path d="M172.61 536.3V538.1" stroke="#222" stroke-width="0.8"/>
<text x="172.61" y="543.6" font-size="5.0" text-anchor="middle" fill="#333" stroke="#444" stroke-width="0.12">R3</text>
<text transform="translate(107.1 507.4) rotate(-90)" font-size="5.1" text-anchor="middle" fill="#222" dy="1.7" stroke="#444" stroke-width="0.12">Relative expression</text>
<rect x="204.8" y="527.9" width="16.13" height="5" fill="#a9a9a9"/>
<rect x="223.2" y="524.4" width="16.13" height="8.5" fill="#a9a9a9"/>
<rect x="241.6" y="484.2" width="16.13" height="48.7" fill="#a9a9a9"/>
<path d="M210.97 523.5H214.77M212.87 523.5V531.6M210.97 531.6H214.77" stroke="#111" stroke-width="1.25" fill="none"/>
<path d="M229.37 523.6H233.17M231.27 523.6V524.8M229.37 524.8H233.17" stroke="#111" stroke-width="1.25" fill="none"/>
<path d="M247.77 474.8H251.57M249.67 474.8V493.8M247.77 493.8H251.57" stroke="#111" stroke-width="1.25" fill="none"/>
<path d="M202.7 472.6V536H259" fill="none" stroke="#000" stroke-width="1.5"/>
<path d="M200.9 483H202.7" stroke="#222" stroke-width="0.8"/>
<text x="199.5" y="485.3" font-size="5.0" text-anchor="end" fill="#333" stroke="#444" stroke-width="0.12">150</text>
<path d="M200.9 500H202.7" stroke="#222" stroke-width="0.8"/>
<text x="199.5" y="502.3" font-size="5.0" text-anchor="end" fill="#333" stroke="#444" stroke-width="0.12">100</text>
<path d="M200.9 517H202.7" stroke="#222" stroke-width="0.8"/>
<text x="199.5" y="519.3" font-size="5.0" text-anchor="end" fill="#333" stroke="#444" stroke-width="0.12">50</text>
<path d="M200.9 533.8H202.7" stroke="#222" stroke-width="0.8"/>
<text x="199.5" y="536.1" font-size="5.0" text-anchor="end" fill="#333" stroke="#444" stroke-width="0.12">0</text>
<path d="M212.87 536V537.8" stroke="#222" stroke-width="0.8"/>
<text x="212.87" y="543.6" font-size="5.0" text-anchor="middle" fill="#333" stroke="#444" stroke-width="0.12">C</text>
<path d="M231.27 536V537.8" stroke="#222" stroke-width="0.8"/>
<text x="231.27" y="543.6" font-size="5.0" text-anchor="middle" fill="#333" stroke="#444" stroke-width="0.12">D</text>
<path d="M249.67 536V537.8" stroke="#222" stroke-width="0.8"/>
<text x="249.67" y="543.6" font-size="5.0" text-anchor="middle" fill="#333" stroke="#444" stroke-width="0.12">R1</text>
<text transform="translate(186.4 506.8) rotate(-90)" font-size="5.1" text-anchor="middle" fill="#222" dy="1.7" stroke="#444" stroke-width="0.12">RPKM</text>
<path d="M204.8 471.5V469.9Q204.8 468.7 206 468.7H258.4Q259.6 468.7 259.6 469.9V471.5M204.8 475.3V473.7Q204.8 472.5 206 472.5H230.4Q231.6 472.5 231.6 473.7V475.3M233.2 475.3V473.7Q233.2 472.5 234.4 472.5H258.4Q259.6 472.5 259.6 473.7V475.3" fill="none" stroke="#555" stroke-width="0.65"/>
<text x="232.3" y="469.1" font-size="4.9" text-anchor="middle" fill="#222" font-weight="bold">***</text>
<text x="218.4" y="471.8" font-size="4.5" text-anchor="middle" fill="#333" stroke="#444" stroke-width="0.12">ns</text>
<text x="245" y="473.7" font-size="4.9" text-anchor="middle" fill="#222" font-weight="bold">***</text>
<rect x="285.72" y="527.9" width="10.07" height="1.5" fill="#fff" stroke="#333" stroke-width="0.7"/>
<path d="M285.72 528.6H295.78" stroke="#222" stroke-width="0.9"/>
<circle cx="290.75" cy="528.6" r="0.95" fill="#222"/>
<rect x="299.14" y="524.6" width="10.07" height="1.5" fill="#fff" stroke="#333" stroke-width="0.7"/>
<path d="M299.14 525.5H309.21" stroke="#222" stroke-width="0.9"/>
<circle cx="304.18" cy="523.5" r="0.95" fill="#222"/>
<circle cx="304.18" cy="526" r="0.95" fill="#222"/>
<path d="M317.6 479.8V486.4M317.6 507.1V510.4" stroke="#333" stroke-width="0.7"/>
<rect x="312.57" y="486.4" width="10.07" height="20.7" fill="#fff" stroke="#333" stroke-width="0.7"/>
<path d="M312.57 497.3H322.63" stroke="#222" stroke-width="0.9"/>
<circle cx="317.6" cy="480.1" r="0.95" fill="#222"/>
<circle cx="317.6" cy="488" r="0.95" fill="#222"/>
<circle cx="317.6" cy="506" r="0.95" fill="#222"/>
<circle cx="317.6" cy="510" r="0.95" fill="#222"/>
<path d="M331.02 488.5V495.1M331.02 501V505.4" stroke="#333" stroke-width="0.7"/>
<rect x="325.99" y="495.1" width="10.07" height="5.9" fill="#fff" stroke="#333" stroke-width="0.7"/>
<path d="M325.99 498.2H336.06" stroke="#222" stroke-width="0.9"/>
<circle cx="331.02" cy="488.8" r="0.95" fill="#222"/>
<circle cx="331.02" cy="498.5" r="0.95" fill="#222"/>
<circle cx="331.02" cy="505" r="0.95" fill="#222"/>
<text x="290.75" y="512.5" font-size="8.2" text-anchor="middle" fill="#222">b</text>
<text x="305.2" y="512.5" font-size="8.2" text-anchor="middle" fill="#222">b</text>
<text x="312.9" y="476.2" font-size="8.2" text-anchor="middle" fill="#222">a</text>
<text x="328.8" y="476.2" font-size="8.2" text-anchor="middle" fill="#222">a</text>
<path d="M283 472.6V537.3H339" fill="none" stroke="#000" stroke-width="1.5"/>
<path d="M281.2 475.4H283" stroke="#222" stroke-width="0.8"/>
<text x="281" y="477.7" font-size="5.0" text-anchor="end" fill="#333" stroke="#444" stroke-width="0.12">0.003</text>
<path d="M281.2 494.9H283" stroke="#222" stroke-width="0.8"/>
<text x="281" y="497.2" font-size="5.0" text-anchor="end" fill="#333" stroke="#444" stroke-width="0.12">0.002</text>
<path d="M281.2 514.5H283" stroke="#222" stroke-width="0.8"/>
<text x="281" y="516.8" font-size="5.0" text-anchor="end" fill="#333" stroke="#444" stroke-width="0.12">0.001</text>
<path d="M281.2 534.4H283" stroke="#222" stroke-width="0.8"/>
<text x="281" y="536.7" font-size="5.0" text-anchor="end" fill="#333" stroke="#444" stroke-width="0.12">0.000</text>
<path d="M290.75 537.3V539.1" stroke="#222" stroke-width="0.8"/>
<text x="290.75" y="543.6" font-size="5.0" text-anchor="middle" fill="#333" stroke="#444" stroke-width="0.12">C</text>
<path d="M304.18 537.3V539.1" stroke="#222" stroke-width="0.8"/>
<text x="304.18" y="543.6" font-size="5.0" text-anchor="middle" fill="#333" stroke="#444" stroke-width="0.12">D</text>
<path d="M317.6 537.3V539.1" stroke="#222" stroke-width="0.8"/>
<text x="317.6" y="543.6" font-size="5.0" text-anchor="middle" fill="#333" stroke="#444" stroke-width="0.12">R1</text>
<path d="M331.02 537.3V539.1" stroke="#222" stroke-width="0.8"/>
<text x="331.02" y="543.6" font-size="5.0" text-anchor="middle" fill="#333" stroke="#444" stroke-width="0.12">R3</text>
<text transform="translate(263.6 506.4) rotate(-90)" font-size="5.1" text-anchor="middle" fill="#222" dy="1.7" stroke="#444" stroke-width="0.12">Relative expression</text>
</svg></body></html>
